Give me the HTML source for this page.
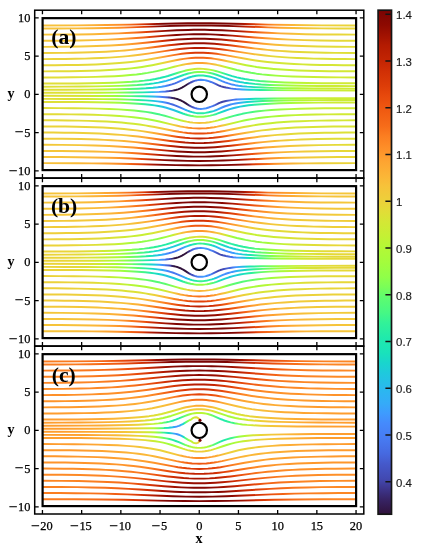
<!DOCTYPE html><html><head><meta charset="utf-8"><title>Streamlines</title><style>html,body{margin:0;padding:0;background:#fff}svg{display:block}text{fill:#000}.t{font-family:"Liberation Serif",serif;font-size:12.4px;stroke:#000;stroke-width:.25px}.b{font-family:"Liberation Serif",serif;font-weight:bold}.c{font-family:"Liberation Sans",sans-serif;font-size:11.4px;fill:#1a1a1a;stroke:#1a1a1a;stroke-width:.15px}</style></head><body>
<svg width="421" height="550" viewBox="0 0 421 550">
<rect width="421" height="550" fill="#fff"/>
<defs><linearGradient id="g0_0" gradientUnits="userSpaceOnUse" x1="42.45" x2="356.05" y1="0" y2="0"><stop offset="0" stop-color="#dfdf37"/><stop offset=".09" stop-color="#dbe236"/><stop offset=".15" stop-color="#d0ea34"/><stop offset=".19" stop-color="#bcf534"/><stop offset=".23" stop-color="#a1fd3d"/><stop offset=".24" stop-color="#96fe44"/><stop offset=".27" stop-color="#6dfe62"/><stop offset=".3" stop-color="#38f491"/><stop offset=".33" stop-color="#1ae4b6"/><stop offset=".34" stop-color="#1bd0d5"/><stop offset=".36" stop-color="#2fb2f4"/><stop offset=".37" stop-color="#4294ff"/><stop offset=".38" stop-color="#458afc"/><stop offset=".39" stop-color="#4771e9"/><stop offset=".4" stop-color="#4456c7"/><stop offset=".41" stop-color="#3f3b97"/><stop offset=".41" stop-color="#392a73"/><stop offset=".42" stop-color="#372466"/><stop offset=".42" stop-color="#30123b"/><stop offset=".46" stop-color="#30123b"/><stop offset=".47" stop-color="#4040a2"/><stop offset=".48" stop-color="#4559cb"/><stop offset=".49" stop-color="#476ee6"/><stop offset=".5" stop-color="#4685fa"/><stop offset=".51" stop-color="#448ffe"/><stop offset=".52" stop-color="#4391fe"/><stop offset=".53" stop-color="#4682f8"/><stop offset=".54" stop-color="#4776ee"/><stop offset=".55" stop-color="#4666dd"/><stop offset=".56" stop-color="#4146ac"/><stop offset=".58" stop-color="#4143a7"/><stop offset=".59" stop-color="#4456c7"/><stop offset=".61" stop-color="#4776ee"/><stop offset=".62" stop-color="#4685fa"/><stop offset=".63" stop-color="#4099ff"/><stop offset=".64" stop-color="#37a8fa"/><stop offset=".65" stop-color="#23c3e4"/><stop offset=".66" stop-color="#1ccdd8"/><stop offset=".67" stop-color="#18e0bd"/><stop offset=".67" stop-color="#19e3b9"/><stop offset=".69" stop-color="#22ebaa"/><stop offset=".71" stop-color="#38f491"/><stop offset=".75" stop-color="#79fe59"/><stop offset=".78" stop-color="#99fe42"/><stop offset=".82" stop-color="#b4f836"/><stop offset=".86" stop-color="#c1f334"/><stop offset=".92" stop-color="#cbed34"/><stop offset="1" stop-color="#cdec34"/></linearGradient><linearGradient id="g0_1" gradientUnits="userSpaceOnUse" x1="42.45" x2="356.05" y1="0" y2="0"><stop offset="0" stop-color="#dfdf37"/><stop offset=".08" stop-color="#dde037"/><stop offset=".15" stop-color="#d0ea34"/><stop offset=".2" stop-color="#bcf534"/><stop offset=".23" stop-color="#a7fc3a"/><stop offset=".25" stop-color="#96fe44"/><stop offset=".27" stop-color="#75fe5c"/><stop offset=".27" stop-color="#75fe5c"/><stop offset=".28" stop-color="#65fd69"/><stop offset=".28" stop-color="#5dfc6f"/><stop offset=".31" stop-color="#38f491"/><stop offset=".31" stop-color="#32f298"/><stop offset=".32" stop-color="#22ebaa"/><stop offset=".34" stop-color="#18e0bd"/><stop offset=".35" stop-color="#1ad2d2"/><stop offset=".36" stop-color="#20c7df"/><stop offset=".37" stop-color="#2eb4f2"/><stop offset=".38" stop-color="#3ba0fd"/><stop offset=".39" stop-color="#448ffe"/><stop offset=".4" stop-color="#4776ee"/><stop offset=".42" stop-color="#466be3"/><stop offset=".42" stop-color="#466be3"/><stop offset=".44" stop-color="#4776ee"/><stop offset=".44" stop-color="#4685fa"/><stop offset=".45" stop-color="#3d9efe"/><stop offset=".46" stop-color="#2fb2f4"/><stop offset=".47" stop-color="#1ad2d2"/><stop offset=".48" stop-color="#19e2bb"/><stop offset=".51" stop-color="#27eea4"/><stop offset=".51" stop-color="#27eea4"/><stop offset=".52" stop-color="#20eaac"/><stop offset=".54" stop-color="#18e0bd"/><stop offset=".54" stop-color="#19d5cd"/><stop offset=".55" stop-color="#20c7df"/><stop offset=".56" stop-color="#2fb2f4"/><stop offset=".57" stop-color="#3d9efe"/><stop offset=".57" stop-color="#448ffe"/><stop offset=".58" stop-color="#4685fa"/><stop offset=".6" stop-color="#4685fa"/><stop offset=".62" stop-color="#4099ff"/><stop offset=".63" stop-color="#2eb4f2"/><stop offset=".65" stop-color="#1bd0d5"/><stop offset=".67" stop-color="#18e0bd"/><stop offset=".67" stop-color="#1ae4b6"/><stop offset=".69" stop-color="#2aefa1"/><stop offset=".72" stop-color="#5dfc6f"/><stop offset=".73" stop-color="#5dfc6f"/><stop offset=".74" stop-color="#79fe59"/><stop offset=".78" stop-color="#99fe42"/><stop offset=".82" stop-color="#b4f836"/><stop offset=".86" stop-color="#c1f334"/><stop offset=".92" stop-color="#cbed34"/><stop offset="1" stop-color="#cdec34"/></linearGradient><linearGradient id="g0_2" gradientUnits="userSpaceOnUse" x1="42.45" x2="356.05" y1="0" y2="0"><stop offset="0" stop-color="#dfdf37"/><stop offset=".08" stop-color="#dde037"/><stop offset=".15" stop-color="#d0ea34"/><stop offset=".19" stop-color="#c1f334"/><stop offset=".23" stop-color="#a7fc3a"/><stop offset=".25" stop-color="#96fe44"/><stop offset=".27" stop-color="#80ff53"/><stop offset=".32" stop-color="#38f491"/><stop offset=".33" stop-color="#22ebaa"/><stop offset=".35" stop-color="#18e0bd"/><stop offset=".37" stop-color="#1ad2d2"/><stop offset=".37" stop-color="#1ccdd8"/><stop offset=".39" stop-color="#27bee9"/><stop offset=".4" stop-color="#2ab9ee"/><stop offset=".41" stop-color="#28bceb"/><stop offset=".43" stop-color="#1bd0d5"/><stop offset=".44" stop-color="#19e3b9"/><stop offset=".46" stop-color="#2cf09e"/><stop offset=".48" stop-color="#71fe5f"/><stop offset=".49" stop-color="#84ff51"/><stop offset=".5" stop-color="#8bff4b"/><stop offset=".51" stop-color="#8bff4b"/><stop offset=".52" stop-color="#84ff51"/><stop offset=".53" stop-color="#71fe5f"/><stop offset=".54" stop-color="#4af880"/><stop offset=".55" stop-color="#2ff19b"/><stop offset=".57" stop-color="#19e3b9"/><stop offset=".57" stop-color="#18d9c8"/><stop offset=".59" stop-color="#22c5e2"/><stop offset=".61" stop-color="#27bee9"/><stop offset=".62" stop-color="#22c5e2"/><stop offset=".64" stop-color="#18d7ca"/><stop offset=".66" stop-color="#18e0bd"/><stop offset=".67" stop-color="#20eaac"/><stop offset=".71" stop-color="#46f884"/><stop offset=".74" stop-color="#7dff56"/><stop offset=".77" stop-color="#99fe42"/><stop offset=".81" stop-color="#affa37"/><stop offset=".86" stop-color="#c1f334"/><stop offset=".91" stop-color="#cbed34"/><stop offset="1" stop-color="#d0ea34"/></linearGradient><linearGradient id="g0_3" gradientUnits="userSpaceOnUse" x1="42.45" x2="356.05" y1="0" y2="0"><stop offset="0" stop-color="#e1dd37"/><stop offset=".07" stop-color="#dfdf37"/><stop offset=".13" stop-color="#d7e535"/><stop offset=".19" stop-color="#c6f034"/><stop offset=".24" stop-color="#a9fb39"/><stop offset=".25" stop-color="#9cfe40"/><stop offset=".28" stop-color="#80ff53"/><stop offset=".29" stop-color="#65fd69"/><stop offset=".3" stop-color="#65fd69"/><stop offset=".33" stop-color="#35f394"/><stop offset=".36" stop-color="#20eaac"/><stop offset=".38" stop-color="#1ce6b4"/><stop offset=".4" stop-color="#1de7b2"/><stop offset=".41" stop-color="#22ebaa"/><stop offset=".42" stop-color="#2ff19b"/><stop offset=".43" stop-color="#4af880"/><stop offset=".44" stop-color="#69fd66"/><stop offset=".45" stop-color="#75fe5c"/><stop offset=".46" stop-color="#9cfe40"/><stop offset=".47" stop-color="#b1f936"/><stop offset=".48" stop-color="#c8ef34"/><stop offset=".5" stop-color="#d7e535"/><stop offset=".51" stop-color="#d4e735"/><stop offset=".53" stop-color="#c6f034"/><stop offset=".54" stop-color="#a9fb39"/><stop offset=".54" stop-color="#9ffd3f"/><stop offset=".55" stop-color="#88ff4e"/><stop offset=".57" stop-color="#59fb73"/><stop offset=".58" stop-color="#32f298"/><stop offset=".59" stop-color="#20eaac"/><stop offset=".6" stop-color="#1ce6b4"/><stop offset=".62" stop-color="#19e3b9"/><stop offset=".64" stop-color="#1ce6b4"/><stop offset=".67" stop-color="#2cf09e"/><stop offset=".71" stop-color="#55fa76"/><stop offset=".73" stop-color="#79fe59"/><stop offset=".75" stop-color="#8bff4b"/><stop offset=".78" stop-color="#a1fd3d"/><stop offset=".81" stop-color="#b7f735"/><stop offset=".87" stop-color="#c6f034"/><stop offset=".96" stop-color="#d0ea34"/><stop offset="1" stop-color="#d0ea34"/></linearGradient><linearGradient id="g0_4" gradientUnits="userSpaceOnUse" x1="42.45" x2="356.05" y1="0" y2="0"><stop offset="0" stop-color="#e3db38"/><stop offset=".1" stop-color="#dfdf37"/><stop offset=".18" stop-color="#d0ea34"/><stop offset=".21" stop-color="#c6f034"/><stop offset=".26" stop-color="#affa37"/><stop offset=".29" stop-color="#96fe44"/><stop offset=".32" stop-color="#80ff53"/><stop offset=".34" stop-color="#79fe59"/><stop offset=".36" stop-color="#79fe59"/><stop offset=".38" stop-color="#84ff51"/><stop offset=".41" stop-color="#b4f836"/><stop offset=".43" stop-color="#d7e535"/><stop offset=".45" stop-color="#f2c93a"/><stop offset=".46" stop-color="#fbb838"/><stop offset=".49" stop-color="#fea431"/><stop offset=".51" stop-color="#fea130"/><stop offset=".52" stop-color="#fea933"/><stop offset=".54" stop-color="#fbb838"/><stop offset=".56" stop-color="#ecd13a"/><stop offset=".58" stop-color="#d0ea34"/><stop offset=".59" stop-color="#acfb38"/><stop offset=".62" stop-color="#80ff53"/><stop offset=".64" stop-color="#6dfe62"/><stop offset=".67" stop-color="#6dfe62"/><stop offset=".7" stop-color="#80ff53"/><stop offset=".73" stop-color="#96fe44"/><stop offset=".76" stop-color="#a7fc3a"/><stop offset=".82" stop-color="#c1f334"/><stop offset=".92" stop-color="#d0ea34"/><stop offset="1" stop-color="#d2e935"/></linearGradient><linearGradient id="g0_5" gradientUnits="userSpaceOnUse" x1="42.45" x2="356.05" y1="0" y2="0"><stop offset="0" stop-color="#e5d938"/><stop offset=".14" stop-color="#dfdf37"/><stop offset=".23" stop-color="#d0ea34"/><stop offset=".29" stop-color="#bef434"/><stop offset=".34" stop-color="#c1f334"/><stop offset=".35" stop-color="#c8ef34"/><stop offset=".38" stop-color="#dfdf37"/><stop offset=".4" stop-color="#f2c93a"/><stop offset=".42" stop-color="#fbb838"/><stop offset=".44" stop-color="#fe932a"/><stop offset=".47" stop-color="#f8721c"/><stop offset=".49" stop-color="#f36315"/><stop offset=".51" stop-color="#f36315"/><stop offset=".53" stop-color="#f76f1a"/><stop offset=".55" stop-color="#fe9029"/><stop offset=".58" stop-color="#fdae35"/><stop offset=".59" stop-color="#f5c53a"/><stop offset=".61" stop-color="#e1dd37"/><stop offset=".65" stop-color="#bef434"/><stop offset=".67" stop-color="#b4f836"/><stop offset=".7" stop-color="#b1f936"/><stop offset=".79" stop-color="#c6f034"/><stop offset=".86" stop-color="#d0ea34"/><stop offset="1" stop-color="#d4e735"/></linearGradient><linearGradient id="g0_6" gradientUnits="userSpaceOnUse" x1="42.45" x2="356.05" y1="0" y2="0"><stop offset="0" stop-color="#e9d539"/><stop offset=".11" stop-color="#e7d739"/><stop offset=".21" stop-color="#dfdf37"/><stop offset=".29" stop-color="#dfdf37"/><stop offset=".32" stop-color="#e5d938"/><stop offset=".36" stop-color="#f7c13a"/><stop offset=".38" stop-color="#fdac34"/><stop offset=".4" stop-color="#fe9029"/><stop offset=".44" stop-color="#f05b12"/><stop offset=".46" stop-color="#e84b0c"/><stop offset=".48" stop-color="#da3907"/><stop offset=".51" stop-color="#d83706"/><stop offset=".53" stop-color="#df3f08"/><stop offset=".55" stop-color="#ed5510"/><stop offset=".59" stop-color="#fe9029"/><stop offset=".62" stop-color="#fbb637"/><stop offset=".66" stop-color="#ebd339"/><stop offset=".68" stop-color="#dfdf37"/><stop offset=".74" stop-color="#d2e935"/><stop offset="1" stop-color="#d7e535"/></linearGradient><linearGradient id="g0_7" gradientUnits="userSpaceOnUse" x1="42.45" x2="356.05" y1="0" y2="0"><stop offset="0" stop-color="#ebd339"/><stop offset=".2" stop-color="#ebd339"/><stop offset=".26" stop-color="#efcd3a"/><stop offset=".3" stop-color="#f6c33a"/><stop offset=".34" stop-color="#fea732"/><stop offset=".39" stop-color="#f9751d"/><stop offset=".41" stop-color="#eb500e"/><stop offset=".45" stop-color="#cc2b04"/><stop offset=".48" stop-color="#b71d02"/><stop offset=".51" stop-color="#b71d02"/><stop offset=".53" stop-color="#be2102"/><stop offset=".55" stop-color="#d02f05"/><stop offset=".58" stop-color="#e7490c"/><stop offset=".61" stop-color="#f9751d"/><stop offset=".63" stop-color="#fe992c"/><stop offset=".65" stop-color="#fdac34"/><stop offset=".69" stop-color="#f2c93a"/><stop offset=".73" stop-color="#e7d739"/><stop offset=".79" stop-color="#dfdf37"/><stop offset="1" stop-color="#dbe236"/></linearGradient><linearGradient id="g0_8" gradientUnits="userSpaceOnUse" x1="42.45" x2="356.05" y1="0" y2="0"><stop offset="0" stop-color="#eecf3a"/><stop offset=".18" stop-color="#f1cb3a"/><stop offset=".23" stop-color="#f5c53a"/><stop offset=".27" stop-color="#fbb838"/><stop offset=".33" stop-color="#fe962b"/><stop offset=".37" stop-color="#f15d13"/><stop offset=".4" stop-color="#df3f08"/><stop offset=".42" stop-color="#cc2b04"/><stop offset=".43" stop-color="#b91e02"/><stop offset=".47" stop-color="#9b0f01"/><stop offset=".51" stop-color="#950d01"/><stop offset=".54" stop-color="#a11201"/><stop offset=".57" stop-color="#be2102"/><stop offset=".58" stop-color="#ce2d04"/><stop offset=".61" stop-color="#e7490c"/><stop offset=".64" stop-color="#f8721c"/><stop offset=".68" stop-color="#fea732"/><stop offset=".72" stop-color="#f7c13a"/><stop offset=".77" stop-color="#ecd13a"/><stop offset=".84" stop-color="#e3db38"/><stop offset="1" stop-color="#dde037"/></linearGradient><linearGradient id="g0_9" gradientUnits="userSpaceOnUse" x1="42.45" x2="356.05" y1="0" y2="0"><stop offset="0" stop-color="#f1cb3a"/><stop offset=".12" stop-color="#f2c93a"/><stop offset=".22" stop-color="#faba39"/><stop offset=".28" stop-color="#fea130"/><stop offset=".32" stop-color="#fb7e21"/><stop offset=".36" stop-color="#ea4e0d"/><stop offset=".39" stop-color="#cc2b04"/><stop offset=".41" stop-color="#b41b01"/><stop offset=".45" stop-color="#8b0902"/><stop offset=".48" stop-color="#850702"/><stop offset=".48" stop-color="#810602"/><stop offset=".5" stop-color="#810602"/><stop offset=".5" stop-color="#850702"/><stop offset=".53" stop-color="#850702"/><stop offset=".55" stop-color="#8e0a01"/><stop offset=".59" stop-color="#be2102"/><stop offset=".62" stop-color="#dc3b07"/><stop offset=".64" stop-color="#eb500e"/><stop offset=".67" stop-color="#f9751d"/><stop offset=".69" stop-color="#fe9029"/><stop offset=".71" stop-color="#fea732"/><stop offset=".73" stop-color="#fbb637"/><stop offset=".78" stop-color="#f2c93a"/><stop offset=".88" stop-color="#e5d938"/><stop offset="1" stop-color="#e1dd37"/></linearGradient><linearGradient id="g0_10" gradientUnits="userSpaceOnUse" x1="42.45" x2="356.05" y1="0" y2="0"><stop offset="0" stop-color="#f4c73a"/><stop offset=".11" stop-color="#f5c53a"/><stop offset=".2" stop-color="#fbb637"/><stop offset=".24" stop-color="#fea732"/><stop offset=".27" stop-color="#fe962b"/><stop offset=".29" stop-color="#fb7e21"/><stop offset=".33" stop-color="#f05b12"/><stop offset=".34" stop-color="#e4450a"/><stop offset=".38" stop-color="#be2102"/><stop offset=".4" stop-color="#9e1001"/><stop offset=".42" stop-color="#880802"/><stop offset=".45" stop-color="#7a0403"/><stop offset=".53" stop-color="#7a0403"/><stop offset=".53" stop-color="#7e0502"/><stop offset=".55" stop-color="#810602"/><stop offset=".57" stop-color="#8b0902"/><stop offset=".59" stop-color="#9b0f01"/><stop offset=".61" stop-color="#b41b01"/><stop offset=".64" stop-color="#d23105"/><stop offset=".65" stop-color="#e4450a"/><stop offset=".67" stop-color="#f26014"/><stop offset=".69" stop-color="#fb7e21"/><stop offset=".71" stop-color="#fe932a"/><stop offset=".73" stop-color="#fea431"/><stop offset=".76" stop-color="#fbb637"/><stop offset=".79" stop-color="#f7c13a"/><stop offset=".88" stop-color="#e9d539"/><stop offset="1" stop-color="#e3db38"/></linearGradient><linearGradient id="g0_11" gradientUnits="userSpaceOnUse" x1="42.45" x2="356.05" y1="0" y2="0"><stop offset="0" stop-color="#f5c53a"/><stop offset=".08" stop-color="#f6c33a"/><stop offset=".17" stop-color="#fbb637"/><stop offset=".22" stop-color="#fea732"/><stop offset=".24" stop-color="#fe992c"/><stop offset=".29" stop-color="#f9751d"/><stop offset=".31" stop-color="#ef5811"/><stop offset=".33" stop-color="#e2430a"/><stop offset=".35" stop-color="#cc2b04"/><stop offset=".36" stop-color="#b91e02"/><stop offset=".4" stop-color="#880802"/><stop offset=".42" stop-color="#7a0403"/><stop offset=".56" stop-color="#7a0403"/><stop offset=".59" stop-color="#8b0902"/><stop offset=".61" stop-color="#9e1001"/><stop offset=".64" stop-color="#bc2002"/><stop offset=".67" stop-color="#e7490c"/><stop offset=".71" stop-color="#fb7e21"/><stop offset=".75" stop-color="#fea732"/><stop offset=".81" stop-color="#f6c33a"/><stop offset=".9" stop-color="#ebd339"/><stop offset="1" stop-color="#e5d938"/></linearGradient><linearGradient id="g0_12" gradientUnits="userSpaceOnUse" x1="42.45" x2="356.05" y1="0" y2="0"><stop offset="0" stop-color="#f6c33a"/><stop offset=".07" stop-color="#f7c13a"/><stop offset=".17" stop-color="#fcb136"/><stop offset=".23" stop-color="#fe992c"/><stop offset=".26" stop-color="#fc8423"/><stop offset=".27" stop-color="#f9751d"/><stop offset=".3" stop-color="#ef5811"/><stop offset=".33" stop-color="#d83706"/><stop offset=".35" stop-color="#af1801"/><stop offset=".38" stop-color="#850702"/><stop offset=".4" stop-color="#7a0403"/><stop offset=".58" stop-color="#7a0403"/><stop offset=".61" stop-color="#8b0902"/><stop offset=".64" stop-color="#af1801"/><stop offset=".66" stop-color="#cc2b04"/><stop offset=".69" stop-color="#ea4e0d"/><stop offset=".72" stop-color="#fb7e21"/><stop offset=".74" stop-color="#fe9029"/><stop offset=".76" stop-color="#fea732"/><stop offset=".79" stop-color="#fbb637"/><stop offset=".83" stop-color="#f6c33a"/><stop offset=".9" stop-color="#ecd13a"/><stop offset="1" stop-color="#e7d739"/></linearGradient><linearGradient id="g0_13" gradientUnits="userSpaceOnUse" x1="42.45" x2="356.05" y1="0" y2="0"><stop offset="0" stop-color="#f7c13a"/><stop offset=".05" stop-color="#f7c13a"/><stop offset=".16" stop-color="#fcb136"/><stop offset=".22" stop-color="#fe992c"/><stop offset=".25" stop-color="#fd8a26"/><stop offset=".27" stop-color="#f9751d"/><stop offset=".3" stop-color="#ec530f"/><stop offset=".32" stop-color="#d83706"/><stop offset=".35" stop-color="#af1801"/><stop offset=".38" stop-color="#850702"/><stop offset=".39" stop-color="#7a0403"/><stop offset=".59" stop-color="#7a0403"/><stop offset=".62" stop-color="#8b0902"/><stop offset=".65" stop-color="#b91e02"/><stop offset=".68" stop-color="#e14109"/><stop offset=".7" stop-color="#f15d13"/><stop offset=".72" stop-color="#f9751d"/><stop offset=".74" stop-color="#fe932a"/><stop offset=".77" stop-color="#fea732"/><stop offset=".81" stop-color="#f9bc39"/><stop offset=".89" stop-color="#eecf3a"/><stop offset="1" stop-color="#e9d539"/></linearGradient><linearGradient id="g0_14" gradientUnits="userSpaceOnUse" x1="42.45" x2="356.05" y1="0" y2="0"><stop offset="0" stop-color="#dfdf37"/><stop offset=".09" stop-color="#dbe236"/><stop offset=".15" stop-color="#d0ea34"/><stop offset=".19" stop-color="#bcf534"/><stop offset=".23" stop-color="#a1fd3d"/><stop offset=".24" stop-color="#96fe44"/><stop offset=".27" stop-color="#6dfe62"/><stop offset=".3" stop-color="#38f491"/><stop offset=".33" stop-color="#1ae4b6"/><stop offset=".34" stop-color="#1bd0d5"/><stop offset=".36" stop-color="#2fb2f4"/><stop offset=".37" stop-color="#4294ff"/><stop offset=".38" stop-color="#4682f8"/><stop offset=".39" stop-color="#4771e9"/><stop offset=".4" stop-color="#4456c7"/><stop offset=".4" stop-color="#4249b1"/><stop offset=".41" stop-color="#3e3891"/><stop offset=".41" stop-color="#3c3286"/><stop offset=".41" stop-color="#392a73"/><stop offset=".42" stop-color="#372466"/><stop offset=".42" stop-color="#30123b"/><stop offset=".46" stop-color="#30123b"/><stop offset=".46" stop-color="#33184a"/><stop offset=".47" stop-color="#3d358b"/><stop offset=".47" stop-color="#4146ac"/><stop offset=".48" stop-color="#4456c7"/><stop offset=".49" stop-color="#476ee6"/><stop offset=".5" stop-color="#4685fa"/><stop offset=".51" stop-color="#4391fe"/><stop offset=".52" stop-color="#4391fe"/><stop offset=".53" stop-color="#4685fa"/><stop offset=".54" stop-color="#467df4"/><stop offset=".55" stop-color="#4664da"/><stop offset=".56" stop-color="#4249b1"/><stop offset=".57" stop-color="#4040a2"/><stop offset=".58" stop-color="#4146ac"/><stop offset=".59" stop-color="#4456c7"/><stop offset=".61" stop-color="#4776ee"/><stop offset=".62" stop-color="#467df4"/><stop offset=".62" stop-color="#458afc"/><stop offset=".63" stop-color="#4099ff"/><stop offset=".64" stop-color="#33adf7"/><stop offset=".65" stop-color="#27bee9"/><stop offset=".66" stop-color="#1ccdd8"/><stop offset=".67" stop-color="#18e0bd"/><stop offset=".67" stop-color="#19e3b9"/><stop offset=".69" stop-color="#22ebaa"/><stop offset=".71" stop-color="#38f491"/><stop offset=".75" stop-color="#79fe59"/><stop offset=".78" stop-color="#99fe42"/><stop offset=".82" stop-color="#b4f836"/><stop offset=".86" stop-color="#c1f334"/><stop offset=".92" stop-color="#cbed34"/><stop offset="1" stop-color="#cdec34"/></linearGradient><linearGradient id="g0_15" gradientUnits="userSpaceOnUse" x1="42.45" x2="356.05" y1="0" y2="0"><stop offset="0" stop-color="#dfdf37"/><stop offset=".08" stop-color="#dde037"/><stop offset=".15" stop-color="#d0ea34"/><stop offset=".2" stop-color="#bcf534"/><stop offset=".23" stop-color="#a7fc3a"/><stop offset=".25" stop-color="#96fe44"/><stop offset=".27" stop-color="#75fe5c"/><stop offset=".27" stop-color="#75fe5c"/><stop offset=".28" stop-color="#69fd66"/><stop offset=".28" stop-color="#61fc6c"/><stop offset=".31" stop-color="#38f491"/><stop offset=".31" stop-color="#32f298"/><stop offset=".32" stop-color="#22ebaa"/><stop offset=".34" stop-color="#18e0bd"/><stop offset=".35" stop-color="#1ccdd8"/><stop offset=".37" stop-color="#2eb4f2"/><stop offset=".38" stop-color="#3ba0fd"/><stop offset=".39" stop-color="#458afc"/><stop offset=".4" stop-color="#4778f0"/><stop offset=".41" stop-color="#466be3"/><stop offset=".42" stop-color="#4669e0"/><stop offset=".43" stop-color="#466be3"/><stop offset=".44" stop-color="#4778f0"/><stop offset=".45" stop-color="#448ffe"/><stop offset=".45" stop-color="#3e9bfe"/><stop offset=".46" stop-color="#2fb2f4"/><stop offset=".47" stop-color="#20c7df"/><stop offset=".47" stop-color="#19d5cd"/><stop offset=".49" stop-color="#1de7b2"/><stop offset=".5" stop-color="#2aefa1"/><stop offset=".52" stop-color="#27eea4"/><stop offset=".53" stop-color="#1ae4b6"/><stop offset=".54" stop-color="#18d9c8"/><stop offset=".55" stop-color="#25c0e7"/><stop offset=".56" stop-color="#3aa3fc"/><stop offset=".57" stop-color="#4294ff"/><stop offset=".58" stop-color="#4685fa"/><stop offset=".59" stop-color="#4682f8"/><stop offset=".62" stop-color="#4099ff"/><stop offset=".63" stop-color="#31aff5"/><stop offset=".65" stop-color="#1bd0d5"/><stop offset=".67" stop-color="#18e0bd"/><stop offset=".67" stop-color="#1ae4b6"/><stop offset=".69" stop-color="#2cf09e"/><stop offset=".72" stop-color="#5dfc6f"/><stop offset=".73" stop-color="#5dfc6f"/><stop offset=".74" stop-color="#79fe59"/><stop offset=".78" stop-color="#99fe42"/><stop offset=".82" stop-color="#b4f836"/><stop offset=".86" stop-color="#c1f334"/><stop offset=".92" stop-color="#cbed34"/><stop offset="1" stop-color="#cdec34"/></linearGradient><linearGradient id="g0_16" gradientUnits="userSpaceOnUse" x1="42.45" x2="356.05" y1="0" y2="0"><stop offset="0" stop-color="#dfdf37"/><stop offset=".08" stop-color="#dde037"/><stop offset=".15" stop-color="#d0ea34"/><stop offset=".19" stop-color="#c1f334"/><stop offset=".23" stop-color="#a7fc3a"/><stop offset=".25" stop-color="#96fe44"/><stop offset=".27" stop-color="#80ff53"/><stop offset=".31" stop-color="#46f884"/><stop offset=".33" stop-color="#25eca7"/><stop offset=".35" stop-color="#18e0bd"/><stop offset=".36" stop-color="#18d7ca"/><stop offset=".39" stop-color="#25c0e7"/><stop offset=".4" stop-color="#2ab9ee"/><stop offset=".41" stop-color="#2ab9ee"/><stop offset=".42" stop-color="#22c5e2"/><stop offset=".44" stop-color="#18d7ca"/><stop offset=".44" stop-color="#19e2bb"/><stop offset=".45" stop-color="#22ebaa"/><stop offset=".46" stop-color="#38f491"/><stop offset=".48" stop-color="#6dfe62"/><stop offset=".48" stop-color="#79fe59"/><stop offset=".49" stop-color="#80ff53"/><stop offset=".49" stop-color="#88ff4e"/><stop offset=".5" stop-color="#8fff49"/><stop offset=".51" stop-color="#8fff49"/><stop offset=".53" stop-color="#79fe59"/><stop offset=".54" stop-color="#55fa76"/><stop offset=".54" stop-color="#52fa7a"/><stop offset=".56" stop-color="#22ebaa"/><stop offset=".57" stop-color="#19e3b9"/><stop offset=".58" stop-color="#1ad4d0"/><stop offset=".59" stop-color="#22c5e2"/><stop offset=".6" stop-color="#27bee9"/><stop offset=".61" stop-color="#27bee9"/><stop offset=".63" stop-color="#1fc9dd"/><stop offset=".64" stop-color="#18d7ca"/><stop offset=".66" stop-color="#18e0bd"/><stop offset=".67" stop-color="#20eaac"/><stop offset=".7" stop-color="#3ff68a"/><stop offset=".74" stop-color="#7dff56"/><stop offset=".77" stop-color="#99fe42"/><stop offset=".81" stop-color="#affa37"/><stop offset=".86" stop-color="#c1f334"/><stop offset=".91" stop-color="#cbed34"/><stop offset="1" stop-color="#d0ea34"/></linearGradient><linearGradient id="g0_17" gradientUnits="userSpaceOnUse" x1="42.45" x2="356.05" y1="0" y2="0"><stop offset="0" stop-color="#e1dd37"/><stop offset=".12" stop-color="#dbe236"/><stop offset=".2" stop-color="#c6f034"/><stop offset=".23" stop-color="#b1f936"/><stop offset=".27" stop-color="#9cfe40"/><stop offset=".3" stop-color="#79fe59"/><stop offset=".33" stop-color="#55fa76"/><stop offset=".36" stop-color="#43f787"/><stop offset=".38" stop-color="#43f787"/><stop offset=".39" stop-color="#4ef97d"/><stop offset=".41" stop-color="#61fc6c"/><stop offset=".42" stop-color="#96fe44"/><stop offset=".44" stop-color="#b4f836"/><stop offset=".45" stop-color="#d0ea34"/><stop offset=".47" stop-color="#ebd339"/><stop offset=".49" stop-color="#f6c33a"/><stop offset=".51" stop-color="#f7c13a"/><stop offset=".53" stop-color="#eecf3a"/><stop offset=".54" stop-color="#e3db38"/><stop offset=".55" stop-color="#cdec34"/><stop offset=".57" stop-color="#affa37"/><stop offset=".57" stop-color="#9cfe40"/><stop offset=".58" stop-color="#8bff4b"/><stop offset=".59" stop-color="#5dfc6f"/><stop offset=".61" stop-color="#43f787"/><stop offset=".62" stop-color="#3cf58e"/><stop offset=".65" stop-color="#3cf58e"/><stop offset=".67" stop-color="#46f884"/><stop offset=".67" stop-color="#4ef97d"/><stop offset=".71" stop-color="#6dfe62"/><stop offset=".71" stop-color="#79fe59"/><stop offset=".75" stop-color="#99fe42"/><stop offset=".81" stop-color="#b7f735"/><stop offset=".89" stop-color="#cbed34"/><stop offset="1" stop-color="#d0ea34"/></linearGradient><linearGradient id="g0_18" gradientUnits="userSpaceOnUse" x1="42.45" x2="356.05" y1="0" y2="0"><stop offset="0" stop-color="#e3db38"/><stop offset=".07" stop-color="#e3db38"/><stop offset=".17" stop-color="#d7e535"/><stop offset=".25" stop-color="#bcf534"/><stop offset=".32" stop-color="#a1fd3d"/><stop offset=".34" stop-color="#a1fd3d"/><stop offset=".37" stop-color="#acfb38"/><stop offset=".39" stop-color="#c3f134"/><stop offset=".4" stop-color="#d2e935"/><stop offset=".41" stop-color="#e7d739"/><stop offset=".44" stop-color="#faba39"/><stop offset=".46" stop-color="#fe9b2d"/><stop offset=".48" stop-color="#fc8423"/><stop offset=".51" stop-color="#fb7e21"/><stop offset=".52" stop-color="#fc8725"/><stop offset=".55" stop-color="#fea933"/><stop offset=".57" stop-color="#f9bc39"/><stop offset=".58" stop-color="#ecd13a"/><stop offset=".6" stop-color="#d0ea34"/><stop offset=".63" stop-color="#acfb38"/><stop offset=".64" stop-color="#a1fd3d"/><stop offset=".65" stop-color="#99fe42"/><stop offset=".68" stop-color="#96fe44"/><stop offset=".72" stop-color="#a1fd3d"/><stop offset=".76" stop-color="#b1f936"/><stop offset=".83" stop-color="#c6f034"/><stop offset=".89" stop-color="#d0ea34"/><stop offset="1" stop-color="#d2e935"/></linearGradient><linearGradient id="g0_19" gradientUnits="userSpaceOnUse" x1="42.45" x2="356.05" y1="0" y2="0"><stop offset="0" stop-color="#e7d739"/><stop offset=".13" stop-color="#e3db38"/><stop offset=".26" stop-color="#d2e935"/><stop offset=".31" stop-color="#d2e935"/><stop offset=".33" stop-color="#d9e436"/><stop offset=".35" stop-color="#e3db38"/><stop offset=".39" stop-color="#f7c13a"/><stop offset=".41" stop-color="#fea933"/><stop offset=".44" stop-color="#fb7e21"/><stop offset=".47" stop-color="#ed5510"/><stop offset=".48" stop-color="#e84b0c"/><stop offset=".5" stop-color="#e5470b"/><stop offset=".52" stop-color="#e84b0c"/><stop offset=".54" stop-color="#f15d13"/><stop offset=".56" stop-color="#f8721c"/><stop offset=".59" stop-color="#fea933"/><stop offset=".62" stop-color="#f5c53a"/><stop offset=".63" stop-color="#e7d739"/><stop offset=".67" stop-color="#d2e935"/><stop offset=".7" stop-color="#c6f034"/><stop offset=".75" stop-color="#c6f034"/><stop offset=".85" stop-color="#d2e935"/><stop offset="1" stop-color="#d4e735"/></linearGradient><linearGradient id="g0_20" gradientUnits="userSpaceOnUse" x1="42.45" x2="356.05" y1="0" y2="0"><stop offset="0" stop-color="#ebd339"/><stop offset=".26" stop-color="#e7d739"/><stop offset=".31" stop-color="#f1cb3a"/><stop offset=".35" stop-color="#fcb336"/><stop offset=".38" stop-color="#fe932a"/><stop offset=".41" stop-color="#f66c19"/><stop offset=".42" stop-color="#ef5811"/><stop offset=".44" stop-color="#e14109"/><stop offset=".47" stop-color="#cc2b04"/><stop offset=".49" stop-color="#c52603"/><stop offset=".51" stop-color="#c52603"/><stop offset=".53" stop-color="#ce2d04"/><stop offset=".56" stop-color="#e5470b"/><stop offset=".58" stop-color="#f26014"/><stop offset=".61" stop-color="#fe9029"/><stop offset=".63" stop-color="#fea732"/><stop offset=".66" stop-color="#f5c53a"/><stop offset=".71" stop-color="#e3db38"/><stop offset=".78" stop-color="#d9e436"/><stop offset="1" stop-color="#d9e436"/></linearGradient><linearGradient id="g0_21" gradientUnits="userSpaceOnUse" x1="42.45" x2="356.05" y1="0" y2="0"><stop offset="0" stop-color="#ecd13a"/><stop offset=".18" stop-color="#eecf3a"/><stop offset=".27" stop-color="#f6c33a"/><stop offset=".3" stop-color="#fbb637"/><stop offset=".33" stop-color="#fea431"/><stop offset=".37" stop-color="#f9751d"/><stop offset=".4" stop-color="#e7490c"/><stop offset=".43" stop-color="#cc2b04"/><stop offset=".47" stop-color="#a91601"/><stop offset=".48" stop-color="#a41301"/><stop offset=".52" stop-color="#a41301"/><stop offset=".54" stop-color="#af1801"/><stop offset=".56" stop-color="#c82803"/><stop offset=".6" stop-color="#ea4e0d"/><stop offset=".62" stop-color="#f56918"/><stop offset=".65" stop-color="#fe9029"/><stop offset=".67" stop-color="#fea732"/><stop offset=".7" stop-color="#f7c13a"/><stop offset=".75" stop-color="#ebd339"/><stop offset=".8" stop-color="#e3db38"/><stop offset="1" stop-color="#dbe236"/></linearGradient><linearGradient id="g0_22" gradientUnits="userSpaceOnUse" x1="42.45" x2="356.05" y1="0" y2="0"><stop offset="0" stop-color="#efcd3a"/><stop offset=".13" stop-color="#f1cb3a"/><stop offset=".21" stop-color="#f7c13a"/><stop offset=".26" stop-color="#fbb637"/><stop offset=".29" stop-color="#fea732"/><stop offset=".32" stop-color="#fd8d27"/><stop offset=".33" stop-color="#fb7e21"/><stop offset=".37" stop-color="#eb500e"/><stop offset=".4" stop-color="#ce2d04"/><stop offset=".42" stop-color="#b41b01"/><stop offset=".46" stop-color="#8e0a01"/><stop offset=".48" stop-color="#880802"/><stop offset=".51" stop-color="#880802"/><stop offset=".54" stop-color="#950d01"/><stop offset=".57" stop-color="#ac1701"/><stop offset=".57" stop-color="#b21a01"/><stop offset=".59" stop-color="#c52603"/><stop offset=".61" stop-color="#d83706"/><stop offset=".62" stop-color="#ea4e0d"/><stop offset=".65" stop-color="#f8721c"/><stop offset=".67" stop-color="#fe9029"/><stop offset=".69" stop-color="#fea130"/><stop offset=".72" stop-color="#fbb637"/><stop offset=".79" stop-color="#eecf3a"/><stop offset=".9" stop-color="#e1dd37"/><stop offset="1" stop-color="#dfdf37"/></linearGradient><linearGradient id="g0_23" gradientUnits="userSpaceOnUse" x1="42.45" x2="356.05" y1="0" y2="0"><stop offset="0" stop-color="#f2c93a"/><stop offset=".11" stop-color="#f4c73a"/><stop offset=".21" stop-color="#fbb838"/><stop offset=".25" stop-color="#fea732"/><stop offset=".28" stop-color="#fe992c"/><stop offset=".31" stop-color="#fb7e21"/><stop offset=".33" stop-color="#f15d13"/><stop offset=".35" stop-color="#e4450a"/><stop offset=".38" stop-color="#c82803"/><stop offset=".4" stop-color="#af1801"/><stop offset=".43" stop-color="#8b0902"/><stop offset=".44" stop-color="#850702"/><stop offset=".46" stop-color="#7e0502"/><stop offset=".5" stop-color="#7a0403"/><stop offset=".5" stop-color="#7e0502"/><stop offset=".53" stop-color="#7e0502"/><stop offset=".56" stop-color="#880802"/><stop offset=".57" stop-color="#920b01"/><stop offset=".61" stop-color="#b91e02"/><stop offset=".62" stop-color="#cc2b04"/><stop offset=".64" stop-color="#e14109"/><stop offset=".65" stop-color="#e84b0c"/><stop offset=".66" stop-color="#ef5811"/><stop offset=".68" stop-color="#fb7e21"/><stop offset=".72" stop-color="#fea732"/><stop offset=".75" stop-color="#fbb637"/><stop offset=".79" stop-color="#f5c53a"/><stop offset=".88" stop-color="#e7d739"/><stop offset="1" stop-color="#e1dd37"/></linearGradient><linearGradient id="g0_24" gradientUnits="userSpaceOnUse" x1="42.45" x2="356.05" y1="0" y2="0"><stop offset="0" stop-color="#f4c73a"/><stop offset=".1" stop-color="#f6c33a"/><stop offset=".19" stop-color="#fbb637"/><stop offset=".23" stop-color="#fea732"/><stop offset=".25" stop-color="#fe992c"/><stop offset=".29" stop-color="#f9751d"/><stop offset=".32" stop-color="#ef5811"/><stop offset=".34" stop-color="#dd3d08"/><stop offset=".37" stop-color="#b91e02"/><stop offset=".4" stop-color="#920b01"/><stop offset=".43" stop-color="#7a0403"/><stop offset=".55" stop-color="#7a0403"/><stop offset=".59" stop-color="#8e0a01"/><stop offset=".62" stop-color="#af1801"/><stop offset=".64" stop-color="#cc2b04"/><stop offset=".66" stop-color="#e4450a"/><stop offset=".68" stop-color="#f15d13"/><stop offset=".7" stop-color="#fb7e21"/><stop offset=".72" stop-color="#fe962b"/><stop offset=".74" stop-color="#fea732"/><stop offset=".81" stop-color="#f5c53a"/><stop offset=".9" stop-color="#e9d539"/><stop offset="1" stop-color="#e5d938"/></linearGradient><linearGradient id="g0_25" gradientUnits="userSpaceOnUse" x1="42.45" x2="356.05" y1="0" y2="0"><stop offset="0" stop-color="#f6c33a"/><stop offset=".09" stop-color="#f7c13a"/><stop offset=".16" stop-color="#fbb637"/><stop offset=".21" stop-color="#fea732"/><stop offset=".24" stop-color="#fe992c"/><stop offset=".28" stop-color="#f9751d"/><stop offset=".3" stop-color="#ef5811"/><stop offset=".32" stop-color="#e2430a"/><stop offset=".34" stop-color="#c82803"/><stop offset=".36" stop-color="#b41b01"/><stop offset=".39" stop-color="#810602"/><stop offset=".41" stop-color="#7a0403"/><stop offset=".58" stop-color="#7a0403"/><stop offset=".61" stop-color="#8e0a01"/><stop offset=".65" stop-color="#be2102"/><stop offset=".66" stop-color="#d43305"/><stop offset=".68" stop-color="#e7490c"/><stop offset=".71" stop-color="#fb7e21"/><stop offset=".76" stop-color="#fea732"/><stop offset=".81" stop-color="#f7c13a"/><stop offset=".91" stop-color="#ebd339"/><stop offset="1" stop-color="#e7d739"/></linearGradient><linearGradient id="g0_26" gradientUnits="userSpaceOnUse" x1="42.45" x2="356.05" y1="0" y2="0"><stop offset="0" stop-color="#f7c13a"/><stop offset=".08" stop-color="#f8be39"/><stop offset=".16" stop-color="#fcb136"/><stop offset=".22" stop-color="#fe992c"/><stop offset=".27" stop-color="#f9751d"/><stop offset=".29" stop-color="#ef5811"/><stop offset=".32" stop-color="#da3907"/><stop offset=".34" stop-color="#b91e02"/><stop offset=".37" stop-color="#920b01"/><stop offset=".38" stop-color="#7e0502"/><stop offset=".39" stop-color="#7a0403"/><stop offset=".59" stop-color="#7a0403"/><stop offset=".62" stop-color="#880802"/><stop offset=".64" stop-color="#9e1001"/><stop offset=".66" stop-color="#bc2002"/><stop offset=".67" stop-color="#da3907"/><stop offset=".69" stop-color="#ea4e0d"/><stop offset=".72" stop-color="#f9751d"/><stop offset=".74" stop-color="#fe9029"/><stop offset=".77" stop-color="#fea732"/><stop offset=".83" stop-color="#f7c13a"/><stop offset=".91" stop-color="#ecd13a"/><stop offset="1" stop-color="#e9d539"/></linearGradient><linearGradient id="g1_0" gradientUnits="userSpaceOnUse" x1="42.45" x2="356.05" y1="0" y2="0"><stop offset="0" stop-color="#ebd339"/><stop offset=".07" stop-color="#e9d539"/><stop offset=".14" stop-color="#dfdf37"/><stop offset=".18" stop-color="#d0ea34"/><stop offset=".23" stop-color="#affa37"/><stop offset=".26" stop-color="#96fe44"/><stop offset=".29" stop-color="#6dfe62"/><stop offset=".31" stop-color="#43f787"/><stop offset=".32" stop-color="#2ff19b"/><stop offset=".34" stop-color="#1ce6b4"/><stop offset=".34" stop-color="#18dec0"/><stop offset=".36" stop-color="#20c7df"/><stop offset=".37" stop-color="#37a8fa"/><stop offset=".38" stop-color="#4196ff"/><stop offset=".39" stop-color="#4682f8"/><stop offset=".39" stop-color="#4776ee"/><stop offset=".4" stop-color="#4661d6"/><stop offset=".41" stop-color="#424bb5"/><stop offset=".41" stop-color="#3c3286"/><stop offset=".42" stop-color="#36215f"/><stop offset=".42" stop-color="#341b51"/><stop offset=".42" stop-color="#30123b"/><stop offset=".46" stop-color="#30123b"/><stop offset=".46" stop-color="#321543"/><stop offset=".46" stop-color="#36215f"/><stop offset=".47" stop-color="#3d358b"/><stop offset=".47" stop-color="#4451bf"/><stop offset=".48" stop-color="#4669e0"/><stop offset=".49" stop-color="#4776ee"/><stop offset=".5" stop-color="#4685fa"/><stop offset=".51" stop-color="#4099ff"/><stop offset=".52" stop-color="#4099ff"/><stop offset=".53" stop-color="#458afc"/><stop offset=".54" stop-color="#467df4"/><stop offset=".55" stop-color="#4661d6"/><stop offset=".56" stop-color="#434eba"/><stop offset=".57" stop-color="#4146ac"/><stop offset=".57" stop-color="#4146ac"/><stop offset=".58" stop-color="#4451bf"/><stop offset=".6" stop-color="#4771e9"/><stop offset=".61" stop-color="#4778f0"/><stop offset=".61" stop-color="#458afc"/><stop offset=".62" stop-color="#4099ff"/><stop offset=".63" stop-color="#2eb4f2"/><stop offset=".64" stop-color="#28bceb"/><stop offset=".65" stop-color="#1ccdd8"/><stop offset=".65" stop-color="#18d9c8"/><stop offset=".66" stop-color="#1ae4b6"/><stop offset=".68" stop-color="#32f298"/><stop offset=".7" stop-color="#52fa7a"/><stop offset=".73" stop-color="#80ff53"/><stop offset=".75" stop-color="#9cfe40"/><stop offset=".78" stop-color="#b1f936"/><stop offset=".8" stop-color="#c1f334"/><stop offset=".85" stop-color="#d7e535"/><stop offset=".92" stop-color="#e3db38"/><stop offset="1" stop-color="#e7d739"/></linearGradient><linearGradient id="g1_1" gradientUnits="userSpaceOnUse" x1="42.45" x2="356.05" y1="0" y2="0"><stop offset="0" stop-color="#ebd339"/><stop offset=".07" stop-color="#e9d539"/><stop offset=".14" stop-color="#dfdf37"/><stop offset=".18" stop-color="#d0ea34"/><stop offset=".24" stop-color="#affa37"/><stop offset=".26" stop-color="#96fe44"/><stop offset=".29" stop-color="#6dfe62"/><stop offset=".31" stop-color="#52fa7a"/><stop offset=".31" stop-color="#4af880"/><stop offset=".32" stop-color="#35f394"/><stop offset=".34" stop-color="#20eaac"/><stop offset=".35" stop-color="#18dec0"/><stop offset=".36" stop-color="#1ccdd8"/><stop offset=".38" stop-color="#2fb2f4"/><stop offset=".39" stop-color="#3d9efe"/><stop offset=".4" stop-color="#4685fa"/><stop offset=".42" stop-color="#4776ee"/><stop offset=".42" stop-color="#4776ee"/><stop offset=".43" stop-color="#467df4"/><stop offset=".44" stop-color="#448ffe"/><stop offset=".45" stop-color="#3aa3fc"/><stop offset=".46" stop-color="#22c5e2"/><stop offset=".47" stop-color="#18d7ca"/><stop offset=".48" stop-color="#19e3b9"/><stop offset=".48" stop-color="#1fe9af"/><stop offset=".49" stop-color="#2cf09e"/><stop offset=".5" stop-color="#32f298"/><stop offset=".51" stop-color="#35f394"/><stop offset=".52" stop-color="#32f298"/><stop offset=".53" stop-color="#2aefa1"/><stop offset=".54" stop-color="#19e3b9"/><stop offset=".54" stop-color="#18d9c8"/><stop offset=".55" stop-color="#1bd0d5"/><stop offset=".56" stop-color="#2eb4f2"/><stop offset=".57" stop-color="#37a8fa"/><stop offset=".58" stop-color="#4196ff"/><stop offset=".58" stop-color="#448ffe"/><stop offset=".59" stop-color="#4391fe"/><stop offset=".61" stop-color="#3d9efe"/><stop offset=".62" stop-color="#2eb4f2"/><stop offset=".64" stop-color="#1ad2d2"/><stop offset=".66" stop-color="#1ae4b6"/><stop offset=".67" stop-color="#27eea4"/><stop offset=".69" stop-color="#46f884"/><stop offset=".73" stop-color="#80ff53"/><stop offset=".75" stop-color="#9cfe40"/><stop offset=".79" stop-color="#bcf534"/><stop offset=".83" stop-color="#d0ea34"/><stop offset=".85" stop-color="#d7e535"/><stop offset=".92" stop-color="#e3db38"/><stop offset="1" stop-color="#e7d739"/></linearGradient><linearGradient id="g1_2" gradientUnits="userSpaceOnUse" x1="42.45" x2="356.05" y1="0" y2="0"><stop offset="0" stop-color="#ebd339"/><stop offset=".08" stop-color="#e9d539"/><stop offset=".16" stop-color="#dbe236"/><stop offset=".2" stop-color="#cbed34"/><stop offset=".24" stop-color="#acfb38"/><stop offset=".26" stop-color="#9cfe40"/><stop offset=".28" stop-color="#80ff53"/><stop offset=".31" stop-color="#52fa7a"/><stop offset=".32" stop-color="#46f884"/><stop offset=".34" stop-color="#27eea4"/><stop offset=".36" stop-color="#18dec0"/><stop offset=".38" stop-color="#1ccdd8"/><stop offset=".4" stop-color="#22c5e2"/><stop offset=".42" stop-color="#1fc9dd"/><stop offset=".44" stop-color="#18e0bd"/><stop offset=".44" stop-color="#20eaac"/><stop offset=".45" stop-color="#35f394"/><stop offset=".47" stop-color="#71fe5f"/><stop offset=".49" stop-color="#92ff47"/><stop offset=".5" stop-color="#9cfe40"/><stop offset=".51" stop-color="#9cfe40"/><stop offset=".52" stop-color="#96fe44"/><stop offset=".53" stop-color="#79fe59"/><stop offset=".55" stop-color="#46f884"/><stop offset=".56" stop-color="#25eca7"/><stop offset=".57" stop-color="#1ae4b6"/><stop offset=".59" stop-color="#1bd0d5"/><stop offset=".61" stop-color="#1ccdd8"/><stop offset=".64" stop-color="#18e0bd"/><stop offset=".66" stop-color="#22ebaa"/><stop offset=".68" stop-color="#46f884"/><stop offset=".72" stop-color="#80ff53"/><stop offset=".74" stop-color="#9ffd3f"/><stop offset=".76" stop-color="#a7fc3a"/><stop offset=".81" stop-color="#cbed34"/><stop offset=".85" stop-color="#d9e436"/><stop offset=".93" stop-color="#e5d938"/><stop offset="1" stop-color="#e7d739"/></linearGradient><linearGradient id="g1_3" gradientUnits="userSpaceOnUse" x1="42.45" x2="356.05" y1="0" y2="0"><stop offset="0" stop-color="#ebd339"/><stop offset=".06" stop-color="#ebd339"/><stop offset=".13" stop-color="#e3db38"/><stop offset=".17" stop-color="#d9e436"/><stop offset=".21" stop-color="#c6f034"/><stop offset=".24" stop-color="#b1f936"/><stop offset=".27" stop-color="#99fe42"/><stop offset=".29" stop-color="#80ff53"/><stop offset=".31" stop-color="#65fd69"/><stop offset=".31" stop-color="#65fd69"/><stop offset=".34" stop-color="#3cf58e"/><stop offset=".36" stop-color="#2cf09e"/><stop offset=".38" stop-color="#25eca7"/><stop offset=".4" stop-color="#25eca7"/><stop offset=".41" stop-color="#32f298"/><stop offset=".42" stop-color="#43f787"/><stop offset=".43" stop-color="#55fa76"/><stop offset=".45" stop-color="#8fff49"/><stop offset=".46" stop-color="#a9fb39"/><stop offset=".47" stop-color="#cdec34"/><stop offset=".48" stop-color="#d7e535"/><stop offset=".5" stop-color="#dfdf37"/><stop offset=".51" stop-color="#dfdf37"/><stop offset=".53" stop-color="#d2e935"/><stop offset=".54" stop-color="#bcf534"/><stop offset=".55" stop-color="#a7fc3a"/><stop offset=".56" stop-color="#92ff47"/><stop offset=".57" stop-color="#59fb73"/><stop offset=".58" stop-color="#3cf58e"/><stop offset=".6" stop-color="#2aefa1"/><stop offset=".62" stop-color="#25eca7"/><stop offset=".65" stop-color="#2ff19b"/><stop offset=".66" stop-color="#38f491"/><stop offset=".68" stop-color="#55fa76"/><stop offset=".71" stop-color="#80ff53"/><stop offset=".71" stop-color="#80ff53"/><stop offset=".73" stop-color="#96fe44"/><stop offset=".76" stop-color="#affa37"/><stop offset=".81" stop-color="#cbed34"/><stop offset=".84" stop-color="#d9e436"/><stop offset=".92" stop-color="#e5d938"/><stop offset="1" stop-color="#e7d739"/></linearGradient><linearGradient id="g1_4" gradientUnits="userSpaceOnUse" x1="42.45" x2="356.05" y1="0" y2="0"><stop offset="0" stop-color="#ecd13a"/><stop offset=".1" stop-color="#e9d539"/><stop offset=".2" stop-color="#d7e535"/><stop offset=".25" stop-color="#c1f334"/><stop offset=".27" stop-color="#b1f936"/><stop offset=".32" stop-color="#92ff47"/><stop offset=".35" stop-color="#88ff4e"/><stop offset=".37" stop-color="#8fff49"/><stop offset=".4" stop-color="#a7fc3a"/><stop offset=".41" stop-color="#b7f735"/><stop offset=".42" stop-color="#d2e935"/><stop offset=".44" stop-color="#f1cb3a"/><stop offset=".45" stop-color="#faba39"/><stop offset=".47" stop-color="#fea933"/><stop offset=".48" stop-color="#fe9b2d"/><stop offset=".49" stop-color="#fe962b"/><stop offset=".51" stop-color="#fe962b"/><stop offset=".53" stop-color="#fea431"/><stop offset=".56" stop-color="#f4c73a"/><stop offset=".58" stop-color="#d9e436"/><stop offset=".6" stop-color="#b1f936"/><stop offset=".62" stop-color="#8fff49"/><stop offset=".64" stop-color="#88ff4e"/><stop offset=".67" stop-color="#8bff4b"/><stop offset=".74" stop-color="#b1f936"/><stop offset=".78" stop-color="#cbed34"/><stop offset=".82" stop-color="#d7e535"/><stop offset=".9" stop-color="#e5d938"/><stop offset="1" stop-color="#e9d539"/></linearGradient><linearGradient id="g1_5" gradientUnits="userSpaceOnUse" x1="42.45" x2="356.05" y1="0" y2="0"><stop offset="0" stop-color="#eecf3a"/><stop offset=".15" stop-color="#e7d739"/><stop offset=".24" stop-color="#d7e535"/><stop offset=".29" stop-color="#c8ef34"/><stop offset=".33" stop-color="#c8ef34"/><stop offset=".34" stop-color="#cdec34"/><stop offset=".36" stop-color="#d9e436"/><stop offset=".39" stop-color="#ebd339"/><stop offset=".41" stop-color="#faba39"/><stop offset=".42" stop-color="#fea933"/><stop offset=".44" stop-color="#fd8a26"/><stop offset=".47" stop-color="#f36315"/><stop offset=".49" stop-color="#ef5811"/><stop offset=".51" stop-color="#ef5811"/><stop offset=".53" stop-color="#f36315"/><stop offset=".56" stop-color="#fc8725"/><stop offset=".58" stop-color="#fea933"/><stop offset=".6" stop-color="#f7c13a"/><stop offset=".62" stop-color="#e3db38"/><stop offset=".65" stop-color="#cdec34"/><stop offset=".67" stop-color="#c6f034"/><stop offset=".71" stop-color="#c6f034"/><stop offset=".78" stop-color="#d7e535"/><stop offset=".85" stop-color="#e3db38"/><stop offset="1" stop-color="#ebd339"/></linearGradient><linearGradient id="g1_6" gradientUnits="userSpaceOnUse" x1="42.45" x2="356.05" y1="0" y2="0"><stop offset="0" stop-color="#efcd3a"/><stop offset=".18" stop-color="#ebd339"/><stop offset=".24" stop-color="#e5d938"/><stop offset=".31" stop-color="#ebd339"/><stop offset=".36" stop-color="#f9bc39"/><stop offset=".38" stop-color="#fea732"/><stop offset=".4" stop-color="#fe9029"/><stop offset=".43" stop-color="#f46617"/><stop offset=".45" stop-color="#e84b0c"/><stop offset=".48" stop-color="#d63506"/><stop offset=".51" stop-color="#d23105"/><stop offset=".53" stop-color="#dc3b07"/><stop offset=".55" stop-color="#e84b0c"/><stop offset=".58" stop-color="#f8721c"/><stop offset=".6" stop-color="#fe932a"/><stop offset=".64" stop-color="#faba39"/><stop offset=".66" stop-color="#f1cb3a"/><stop offset=".69" stop-color="#e9d539"/><stop offset=".72" stop-color="#e3db38"/><stop offset=".78" stop-color="#e3db38"/><stop offset=".89" stop-color="#ebd339"/><stop offset="1" stop-color="#ecd13a"/></linearGradient><linearGradient id="g1_7" gradientUnits="userSpaceOnUse" x1="42.45" x2="356.05" y1="0" y2="0"><stop offset="0" stop-color="#f1cb3a"/><stop offset=".2" stop-color="#efcd3a"/><stop offset=".28" stop-color="#f6c33a"/><stop offset=".32" stop-color="#fbb637"/><stop offset=".34" stop-color="#fea732"/><stop offset=".38" stop-color="#f9751d"/><stop offset=".41" stop-color="#e84b0c"/><stop offset=".45" stop-color="#cc2b04"/><stop offset=".47" stop-color="#b41b01"/><stop offset=".49" stop-color="#af1801"/><stop offset=".51" stop-color="#af1801"/><stop offset=".53" stop-color="#b71d02"/><stop offset=".56" stop-color="#ce2d04"/><stop offset=".59" stop-color="#ea4e0d"/><stop offset=".62" stop-color="#f9751d"/><stop offset=".64" stop-color="#fe932a"/><stop offset=".66" stop-color="#fea732"/><stop offset=".71" stop-color="#f6c33a"/><stop offset=".78" stop-color="#eecf3a"/><stop offset="1" stop-color="#eecf3a"/></linearGradient><linearGradient id="g1_8" gradientUnits="userSpaceOnUse" x1="42.45" x2="356.05" y1="0" y2="0"><stop offset="0" stop-color="#f2c93a"/><stop offset=".17" stop-color="#f4c73a"/><stop offset=".22" stop-color="#f7c13a"/><stop offset=".27" stop-color="#fbb637"/><stop offset=".29" stop-color="#fdac34"/><stop offset=".32" stop-color="#fe992c"/><stop offset=".36" stop-color="#f56918"/><stop offset=".36" stop-color="#f36315"/><stop offset=".4" stop-color="#df3f08"/><stop offset=".42" stop-color="#be2102"/><stop offset=".45" stop-color="#a91601"/><stop offset=".47" stop-color="#950d01"/><stop offset=".51" stop-color="#8e0a01"/><stop offset=".54" stop-color="#9b0f01"/><stop offset=".57" stop-color="#b91e02"/><stop offset=".59" stop-color="#d63506"/><stop offset=".62" stop-color="#e7490c"/><stop offset=".63" stop-color="#f05b12"/><stop offset=".67" stop-color="#fe932a"/><stop offset=".7" stop-color="#fea732"/><stop offset=".74" stop-color="#fbb838"/><stop offset=".78" stop-color="#f6c33a"/><stop offset=".82" stop-color="#f2c93a"/><stop offset="1" stop-color="#efcd3a"/></linearGradient><linearGradient id="g1_9" gradientUnits="userSpaceOnUse" x1="42.45" x2="356.05" y1="0" y2="0"><stop offset="0" stop-color="#f4c73a"/><stop offset=".13" stop-color="#f5c53a"/><stop offset=".21" stop-color="#fbb838"/><stop offset=".26" stop-color="#fea732"/><stop offset=".29" stop-color="#fe992c"/><stop offset=".32" stop-color="#fb7e21"/><stop offset=".36" stop-color="#ea4e0d"/><stop offset=".38" stop-color="#d23105"/><stop offset=".41" stop-color="#af1801"/><stop offset=".45" stop-color="#8b0902"/><stop offset=".47" stop-color="#810602"/><stop offset=".52" stop-color="#7e0502"/><stop offset=".56" stop-color="#8e0a01"/><stop offset=".6" stop-color="#b91e02"/><stop offset=".63" stop-color="#df3f08"/><stop offset=".66" stop-color="#f26014"/><stop offset=".67" stop-color="#f9751d"/><stop offset=".71" stop-color="#fe932a"/><stop offset=".73" stop-color="#fea732"/><stop offset=".78" stop-color="#faba39"/><stop offset=".89" stop-color="#f2c93a"/><stop offset="1" stop-color="#f1cb3a"/></linearGradient><linearGradient id="g1_10" gradientUnits="userSpaceOnUse" x1="42.45" x2="356.05" y1="0" y2="0"><stop offset="0" stop-color="#f4c73a"/><stop offset=".11" stop-color="#f6c33a"/><stop offset=".19" stop-color="#fbb838"/><stop offset=".24" stop-color="#fea431"/><stop offset=".27" stop-color="#fe932a"/><stop offset=".29" stop-color="#fb7e21"/><stop offset=".32" stop-color="#f36315"/><stop offset=".34" stop-color="#e84b0c"/><stop offset=".34" stop-color="#e4450a"/><stop offset=".38" stop-color="#be2102"/><stop offset=".41" stop-color="#920b01"/><stop offset=".43" stop-color="#810602"/><stop offset=".45" stop-color="#7e0502"/><stop offset=".45" stop-color="#7a0403"/><stop offset=".55" stop-color="#7a0403"/><stop offset=".58" stop-color="#8b0902"/><stop offset=".62" stop-color="#b91e02"/><stop offset=".64" stop-color="#d63506"/><stop offset=".67" stop-color="#ea4e0d"/><stop offset=".71" stop-color="#fb7e21"/><stop offset=".74" stop-color="#fe992c"/><stop offset=".76" stop-color="#fea732"/><stop offset=".81" stop-color="#fbb838"/><stop offset=".9" stop-color="#f4c73a"/><stop offset="1" stop-color="#f2c93a"/></linearGradient><linearGradient id="g1_11" gradientUnits="userSpaceOnUse" x1="42.45" x2="356.05" y1="0" y2="0"><stop offset="0" stop-color="#f5c53a"/><stop offset=".09" stop-color="#f6c33a"/><stop offset=".17" stop-color="#fbb637"/><stop offset=".23" stop-color="#fea431"/><stop offset=".26" stop-color="#fe9029"/><stop offset=".28" stop-color="#fb7e21"/><stop offset=".31" stop-color="#ef5811"/><stop offset=".33" stop-color="#e14109"/><stop offset=".36" stop-color="#be2102"/><stop offset=".39" stop-color="#920b01"/><stop offset=".4" stop-color="#880802"/><stop offset=".42" stop-color="#7a0403"/><stop offset=".57" stop-color="#7a0403"/><stop offset=".6" stop-color="#8b0902"/><stop offset=".64" stop-color="#bc2002"/><stop offset=".67" stop-color="#e4450a"/><stop offset=".69" stop-color="#ef5811"/><stop offset=".71" stop-color="#f9751d"/><stop offset=".73" stop-color="#fd8a26"/><stop offset=".76" stop-color="#fe9e2f"/><stop offset=".82" stop-color="#fbb637"/><stop offset=".91" stop-color="#f5c53a"/><stop offset="1" stop-color="#f4c73a"/></linearGradient><linearGradient id="g1_12" gradientUnits="userSpaceOnUse" x1="42.45" x2="356.05" y1="0" y2="0"><stop offset="0" stop-color="#f5c53a"/><stop offset=".1" stop-color="#f7c13a"/><stop offset=".18" stop-color="#fcb136"/><stop offset=".21" stop-color="#fea732"/><stop offset=".24" stop-color="#fe932a"/><stop offset=".28" stop-color="#f9751d"/><stop offset=".3" stop-color="#ef5811"/><stop offset=".33" stop-color="#da3907"/><stop offset=".34" stop-color="#cc2b04"/><stop offset=".36" stop-color="#af1801"/><stop offset=".38" stop-color="#8e0a01"/><stop offset=".41" stop-color="#7a0403"/><stop offset=".59" stop-color="#7a0403"/><stop offset=".62" stop-color="#880802"/><stop offset=".65" stop-color="#b41b01"/><stop offset=".68" stop-color="#e14109"/><stop offset=".7" stop-color="#f15d13"/><stop offset=".72" stop-color="#f9751d"/><stop offset=".76" stop-color="#fe992c"/><stop offset=".81" stop-color="#fcb136"/><stop offset=".88" stop-color="#f7c13a"/><stop offset="1" stop-color="#f4c73a"/></linearGradient><linearGradient id="g1_13" gradientUnits="userSpaceOnUse" x1="42.45" x2="356.05" y1="0" y2="0"><stop offset="0" stop-color="#f5c53a"/><stop offset=".09" stop-color="#f7c13a"/><stop offset=".18" stop-color="#fcb136"/><stop offset=".24" stop-color="#fe962b"/><stop offset=".27" stop-color="#f9751d"/><stop offset=".29" stop-color="#f15d13"/><stop offset=".32" stop-color="#e14109"/><stop offset=".34" stop-color="#be2102"/><stop offset=".38" stop-color="#880802"/><stop offset=".4" stop-color="#7a0403"/><stop offset=".6" stop-color="#7a0403"/><stop offset=".62" stop-color="#850702"/><stop offset=".65" stop-color="#b41b01"/><stop offset=".67" stop-color="#cc2b04"/><stop offset=".69" stop-color="#e4450a"/><stop offset=".72" stop-color="#f9751d"/><stop offset=".77" stop-color="#fe9b2d"/><stop offset=".83" stop-color="#fbb637"/><stop offset=".91" stop-color="#f6c33a"/><stop offset="1" stop-color="#f4c73a"/></linearGradient><linearGradient id="g1_14" gradientUnits="userSpaceOnUse" x1="42.45" x2="356.05" y1="0" y2="0"><stop offset="0" stop-color="#ebd339"/><stop offset=".07" stop-color="#e9d539"/><stop offset=".14" stop-color="#dfdf37"/><stop offset=".18" stop-color="#d0ea34"/><stop offset=".23" stop-color="#affa37"/><stop offset=".26" stop-color="#96fe44"/><stop offset=".29" stop-color="#6dfe62"/><stop offset=".29" stop-color="#5dfc6f"/><stop offset=".3" stop-color="#55fa76"/><stop offset=".32" stop-color="#2ff19b"/><stop offset=".34" stop-color="#1ce6b4"/><stop offset=".34" stop-color="#18dec0"/><stop offset=".36" stop-color="#20c7df"/><stop offset=".37" stop-color="#37a8fa"/><stop offset=".38" stop-color="#4196ff"/><stop offset=".39" stop-color="#4682f8"/><stop offset=".39" stop-color="#4776ee"/><stop offset=".4" stop-color="#4661d6"/><stop offset=".41" stop-color="#4143a7"/><stop offset=".41" stop-color="#3c3286"/><stop offset=".42" stop-color="#33184a"/><stop offset=".42" stop-color="#30123b"/><stop offset=".46" stop-color="#30123b"/><stop offset=".46" stop-color="#321543"/><stop offset=".47" stop-color="#3c3286"/><stop offset=".47" stop-color="#4146ac"/><stop offset=".48" stop-color="#4456c7"/><stop offset=".49" stop-color="#4776ee"/><stop offset=".5" stop-color="#4687fb"/><stop offset=".51" stop-color="#4099ff"/><stop offset=".52" stop-color="#4099ff"/><stop offset=".52" stop-color="#4294ff"/><stop offset=".54" stop-color="#4680f6"/><stop offset=".54" stop-color="#4771e9"/><stop offset=".56" stop-color="#4249b1"/><stop offset=".57" stop-color="#4143a7"/><stop offset=".58" stop-color="#4454c3"/><stop offset=".6" stop-color="#466be3"/><stop offset=".61" stop-color="#4682f8"/><stop offset=".62" stop-color="#4099ff"/><stop offset=".63" stop-color="#2eb4f2"/><stop offset=".65" stop-color="#1ccdd8"/><stop offset=".65" stop-color="#18d9c8"/><stop offset=".66" stop-color="#1ae4b6"/><stop offset=".68" stop-color="#32f298"/><stop offset=".7" stop-color="#52fa7a"/><stop offset=".73" stop-color="#80ff53"/><stop offset=".75" stop-color="#9cfe40"/><stop offset=".78" stop-color="#b1f936"/><stop offset=".8" stop-color="#c1f334"/><stop offset=".85" stop-color="#d7e535"/><stop offset=".92" stop-color="#e3db38"/><stop offset="1" stop-color="#e7d739"/></linearGradient><linearGradient id="g1_15" gradientUnits="userSpaceOnUse" x1="42.45" x2="356.05" y1="0" y2="0"><stop offset="0" stop-color="#ebd339"/><stop offset=".07" stop-color="#e9d539"/><stop offset=".14" stop-color="#dfdf37"/><stop offset=".18" stop-color="#d0ea34"/><stop offset=".24" stop-color="#affa37"/><stop offset=".26" stop-color="#96fe44"/><stop offset=".29" stop-color="#6dfe62"/><stop offset=".31" stop-color="#52fa7a"/><stop offset=".31" stop-color="#4af880"/><stop offset=".32" stop-color="#35f394"/><stop offset=".34" stop-color="#20eaac"/><stop offset=".35" stop-color="#18dec0"/><stop offset=".36" stop-color="#1ccdd8"/><stop offset=".38" stop-color="#2fb2f4"/><stop offset=".39" stop-color="#3d9efe"/><stop offset=".4" stop-color="#458afc"/><stop offset=".41" stop-color="#467df4"/><stop offset=".42" stop-color="#4776ee"/><stop offset=".42" stop-color="#4776ee"/><stop offset=".44" stop-color="#4680f6"/><stop offset=".44" stop-color="#448ffe"/><stop offset=".45" stop-color="#37a8fa"/><stop offset=".46" stop-color="#2cb7f0"/><stop offset=".47" stop-color="#1ad2d2"/><stop offset=".47" stop-color="#18e0bd"/><stop offset=".49" stop-color="#27eea4"/><stop offset=".5" stop-color="#35f394"/><stop offset=".51" stop-color="#38f491"/><stop offset=".53" stop-color="#2aefa1"/><stop offset=".53" stop-color="#20eaac"/><stop offset=".54" stop-color="#18e0bd"/><stop offset=".55" stop-color="#1ccdd8"/><stop offset=".56" stop-color="#2eb4f2"/><stop offset=".57" stop-color="#37a8fa"/><stop offset=".57" stop-color="#4099ff"/><stop offset=".58" stop-color="#448ffe"/><stop offset=".59" stop-color="#448ffe"/><stop offset=".61" stop-color="#4099ff"/><stop offset=".62" stop-color="#2eb4f2"/><stop offset=".64" stop-color="#1ad2d2"/><stop offset=".66" stop-color="#1ae4b6"/><stop offset=".67" stop-color="#2aefa1"/><stop offset=".69" stop-color="#46f884"/><stop offset=".73" stop-color="#80ff53"/><stop offset=".75" stop-color="#9cfe40"/><stop offset=".79" stop-color="#bcf534"/><stop offset=".83" stop-color="#d0ea34"/><stop offset=".85" stop-color="#d7e535"/><stop offset=".91" stop-color="#e3db38"/><stop offset="1" stop-color="#e7d739"/></linearGradient><linearGradient id="g1_16" gradientUnits="userSpaceOnUse" x1="42.45" x2="356.05" y1="0" y2="0"><stop offset="0" stop-color="#ebd339"/><stop offset=".08" stop-color="#e9d539"/><stop offset=".16" stop-color="#dbe236"/><stop offset=".2" stop-color="#cbed34"/><stop offset=".24" stop-color="#acfb38"/><stop offset=".26" stop-color="#9cfe40"/><stop offset=".28" stop-color="#80ff53"/><stop offset=".31" stop-color="#52fa7a"/><stop offset=".32" stop-color="#46f884"/><stop offset=".34" stop-color="#27eea4"/><stop offset=".36" stop-color="#18dec0"/><stop offset=".39" stop-color="#1fc9dd"/><stop offset=".4" stop-color="#22c5e2"/><stop offset=".42" stop-color="#1fc9dd"/><stop offset=".42" stop-color="#1bd0d5"/><stop offset=".43" stop-color="#18d7ca"/><stop offset=".44" stop-color="#19e3b9"/><stop offset=".44" stop-color="#1fe9af"/><stop offset=".45" stop-color="#35f394"/><stop offset=".48" stop-color="#80ff53"/><stop offset=".49" stop-color="#8fff49"/><stop offset=".5" stop-color="#9ffd3f"/><stop offset=".51" stop-color="#9ffd3f"/><stop offset=".52" stop-color="#8fff49"/><stop offset=".53" stop-color="#80ff53"/><stop offset=".54" stop-color="#5dfc6f"/><stop offset=".56" stop-color="#2aefa1"/><stop offset=".57" stop-color="#1ae4b6"/><stop offset=".58" stop-color="#19d5cd"/><stop offset=".59" stop-color="#1ccdd8"/><stop offset=".61" stop-color="#1ecbda"/><stop offset=".62" stop-color="#1bd0d5"/><stop offset=".64" stop-color="#18e0bd"/><stop offset=".66" stop-color="#22ebaa"/><stop offset=".68" stop-color="#46f884"/><stop offset=".72" stop-color="#80ff53"/><stop offset=".76" stop-color="#a7fc3a"/><stop offset=".81" stop-color="#cbed34"/><stop offset=".85" stop-color="#d9e436"/><stop offset=".93" stop-color="#e5d938"/><stop offset="1" stop-color="#e7d739"/></linearGradient><linearGradient id="g1_17" gradientUnits="userSpaceOnUse" x1="42.45" x2="356.05" y1="0" y2="0"><stop offset="0" stop-color="#ecd13a"/><stop offset=".11" stop-color="#e7d739"/><stop offset=".16" stop-color="#dde037"/><stop offset=".2" stop-color="#d0ea34"/><stop offset=".25" stop-color="#b1f936"/><stop offset=".28" stop-color="#9cfe40"/><stop offset=".33" stop-color="#69fd66"/><stop offset=".36" stop-color="#55fa76"/><stop offset=".38" stop-color="#55fa76"/><stop offset=".39" stop-color="#5dfc6f"/><stop offset=".41" stop-color="#79fe59"/><stop offset=".43" stop-color="#acfb38"/><stop offset=".45" stop-color="#d0ea34"/><stop offset=".46" stop-color="#e7d739"/><stop offset=".47" stop-color="#f4c73a"/><stop offset=".49" stop-color="#faba39"/><stop offset=".5" stop-color="#fbb637"/><stop offset=".52" stop-color="#faba39"/><stop offset=".53" stop-color="#f5c53a"/><stop offset=".54" stop-color="#e9d539"/><stop offset=".56" stop-color="#d4e735"/><stop offset=".57" stop-color="#affa37"/><stop offset=".58" stop-color="#99fe42"/><stop offset=".59" stop-color="#75fe5c"/><stop offset=".61" stop-color="#5dfc6f"/><stop offset=".62" stop-color="#55fa76"/><stop offset=".65" stop-color="#55fa76"/><stop offset=".65" stop-color="#59fb73"/><stop offset=".68" stop-color="#6dfe62"/><stop offset=".72" stop-color="#99fe42"/><stop offset=".74" stop-color="#a9fb39"/><stop offset=".77" stop-color="#bcf534"/><stop offset=".81" stop-color="#d0ea34"/><stop offset=".9" stop-color="#e3db38"/><stop offset="1" stop-color="#e7d739"/></linearGradient><linearGradient id="g1_18" gradientUnits="userSpaceOnUse" x1="42.45" x2="356.05" y1="0" y2="0"><stop offset="0" stop-color="#ecd13a"/><stop offset=".09" stop-color="#ebd339"/><stop offset=".16" stop-color="#e3db38"/><stop offset=".23" stop-color="#d2e935"/><stop offset=".3" stop-color="#b1f936"/><stop offset=".33" stop-color="#acfb38"/><stop offset=".36" stop-color="#b1f936"/><stop offset=".39" stop-color="#cdec34"/><stop offset=".41" stop-color="#ebd339"/><stop offset=".43" stop-color="#fbb838"/><stop offset=".47" stop-color="#fc8423"/><stop offset=".49" stop-color="#f9751d"/><stop offset=".51" stop-color="#f8721c"/><stop offset=".53" stop-color="#fb8122"/><stop offset=".54" stop-color="#fe9029"/><stop offset=".57" stop-color="#fbb838"/><stop offset=".59" stop-color="#ebd339"/><stop offset=".61" stop-color="#d0ea34"/><stop offset=".64" stop-color="#b1f936"/><stop offset=".67" stop-color="#a9fb39"/><stop offset=".69" stop-color="#acfb38"/><stop offset=".78" stop-color="#d0ea34"/><stop offset=".85" stop-color="#e1dd37"/><stop offset="1" stop-color="#e9d539"/></linearGradient><linearGradient id="g1_19" gradientUnits="userSpaceOnUse" x1="42.45" x2="356.05" y1="0" y2="0"><stop offset="0" stop-color="#eecf3a"/><stop offset=".14" stop-color="#ebd339"/><stop offset=".26" stop-color="#dbe236"/><stop offset=".33" stop-color="#dfdf37"/><stop offset=".36" stop-color="#eecf3a"/><stop offset=".38" stop-color="#f9bc39"/><stop offset=".4" stop-color="#fea933"/><stop offset=".42" stop-color="#fc8423"/><stop offset=".46" stop-color="#ed5510"/><stop offset=".47" stop-color="#e5470b"/><stop offset=".51" stop-color="#e14109"/><stop offset=".53" stop-color="#e7490c"/><stop offset=".55" stop-color="#f15d13"/><stop offset=".56" stop-color="#f66c19"/><stop offset=".58" stop-color="#fe9029"/><stop offset=".6" stop-color="#fea933"/><stop offset=".62" stop-color="#f5c53a"/><stop offset=".67" stop-color="#dfdf37"/><stop offset=".72" stop-color="#d7e535"/><stop offset=".86" stop-color="#e7d739"/><stop offset="1" stop-color="#ebd339"/></linearGradient><linearGradient id="g1_20" gradientUnits="userSpaceOnUse" x1="42.45" x2="356.05" y1="0" y2="0"><stop offset="0" stop-color="#efcd3a"/><stop offset=".25" stop-color="#ecd13a"/><stop offset=".31" stop-color="#f5c53a"/><stop offset=".35" stop-color="#fdac34"/><stop offset=".39" stop-color="#fb7e21"/><stop offset=".43" stop-color="#e84b0c"/><stop offset=".45" stop-color="#d63506"/><stop offset=".46" stop-color="#cc2b04"/><stop offset=".49" stop-color="#be2102"/><stop offset=".51" stop-color="#be2102"/><stop offset=".54" stop-color="#cc2b04"/><stop offset=".56" stop-color="#df3f08"/><stop offset=".59" stop-color="#f26014"/><stop offset=".6" stop-color="#f9751d"/><stop offset=".62" stop-color="#fe9029"/><stop offset=".65" stop-color="#fdac34"/><stop offset=".67" stop-color="#f7c13a"/><stop offset=".7" stop-color="#f1cb3a"/><stop offset=".74" stop-color="#ebd339"/><stop offset="1" stop-color="#ecd13a"/></linearGradient><linearGradient id="g1_21" gradientUnits="userSpaceOnUse" x1="42.45" x2="356.05" y1="0" y2="0"><stop offset="0" stop-color="#f1cb3a"/><stop offset=".19" stop-color="#f2c93a"/><stop offset=".26" stop-color="#f7c13a"/><stop offset=".28" stop-color="#faba39"/><stop offset=".31" stop-color="#fdac34"/><stop offset=".33" stop-color="#fe992c"/><stop offset=".37" stop-color="#f76f1a"/><stop offset=".4" stop-color="#ea4e0d"/><stop offset=".43" stop-color="#c52603"/><stop offset=".46" stop-color="#af1801"/><stop offset=".47" stop-color="#a11201"/><stop offset=".51" stop-color="#9b0f01"/><stop offset=".54" stop-color="#a91601"/><stop offset=".57" stop-color="#c52603"/><stop offset=".59" stop-color="#e14109"/><stop offset=".62" stop-color="#f36315"/><stop offset=".66" stop-color="#fe9029"/><stop offset=".68" stop-color="#fea431"/><stop offset=".72" stop-color="#f9bc39"/><stop offset=".8" stop-color="#f1cb3a"/><stop offset="1" stop-color="#eecf3a"/></linearGradient><linearGradient id="g1_22" gradientUnits="userSpaceOnUse" x1="42.45" x2="356.05" y1="0" y2="0"><stop offset="0" stop-color="#f2c93a"/><stop offset=".13" stop-color="#f4c73a"/><stop offset=".24" stop-color="#fbb838"/><stop offset=".28" stop-color="#fea431"/><stop offset=".33" stop-color="#fb7e21"/><stop offset=".35" stop-color="#f26014"/><stop offset=".37" stop-color="#e84b0c"/><stop offset=".38" stop-color="#e4450a"/><stop offset=".4" stop-color="#cc2b04"/><stop offset=".42" stop-color="#b41b01"/><stop offset=".46" stop-color="#8b0902"/><stop offset=".47" stop-color="#850702"/><stop offset=".52" stop-color="#850702"/><stop offset=".56" stop-color="#980e01"/><stop offset=".59" stop-color="#be2102"/><stop offset=".62" stop-color="#dc3b07"/><stop offset=".64" stop-color="#ef5811"/><stop offset=".66" stop-color="#f9751d"/><stop offset=".69" stop-color="#fd8d27"/><stop offset=".72" stop-color="#fea732"/><stop offset=".77" stop-color="#f9bc39"/><stop offset=".86" stop-color="#f2c93a"/><stop offset="1" stop-color="#efcd3a"/></linearGradient><linearGradient id="g1_23" gradientUnits="userSpaceOnUse" x1="42.45" x2="356.05" y1="0" y2="0"><stop offset="0" stop-color="#f4c73a"/><stop offset=".13" stop-color="#f6c33a"/><stop offset=".21" stop-color="#fbb637"/><stop offset=".25" stop-color="#fea732"/><stop offset=".28" stop-color="#fe932a"/><stop offset=".3" stop-color="#fb7e21"/><stop offset=".34" stop-color="#ef5811"/><stop offset=".36" stop-color="#e14109"/><stop offset=".38" stop-color="#c12302"/><stop offset=".41" stop-color="#9e1001"/><stop offset=".43" stop-color="#880802"/><stop offset=".47" stop-color="#7a0403"/><stop offset=".53" stop-color="#7a0403"/><stop offset=".54" stop-color="#7e0502"/><stop offset=".56" stop-color="#810602"/><stop offset=".57" stop-color="#8b0902"/><stop offset=".62" stop-color="#be2102"/><stop offset=".64" stop-color="#d83706"/><stop offset=".66" stop-color="#ea4e0d"/><stop offset=".69" stop-color="#fb7e21"/><stop offset=".72" stop-color="#fe992c"/><stop offset=".75" stop-color="#fea732"/><stop offset=".8" stop-color="#faba39"/><stop offset=".88" stop-color="#f4c73a"/><stop offset="1" stop-color="#f1cb3a"/></linearGradient><linearGradient id="g1_24" gradientUnits="userSpaceOnUse" x1="42.45" x2="356.05" y1="0" y2="0"><stop offset="0" stop-color="#f5c53a"/><stop offset=".1" stop-color="#f6c33a"/><stop offset=".18" stop-color="#fbb637"/><stop offset=".23" stop-color="#fea431"/><stop offset=".26" stop-color="#fe932a"/><stop offset=".29" stop-color="#f9751d"/><stop offset=".33" stop-color="#ea4e0d"/><stop offset=".34" stop-color="#d83706"/><stop offset=".36" stop-color="#c12302"/><stop offset=".41" stop-color="#8b0902"/><stop offset=".43" stop-color="#7a0403"/><stop offset=".57" stop-color="#7a0403"/><stop offset=".6" stop-color="#8e0a01"/><stop offset=".64" stop-color="#c52603"/><stop offset=".66" stop-color="#dc3b07"/><stop offset=".67" stop-color="#eb500e"/><stop offset=".71" stop-color="#f9751d"/><stop offset=".73" stop-color="#fe9029"/><stop offset=".75" stop-color="#fe9e2f"/><stop offset=".81" stop-color="#fbb637"/><stop offset=".9" stop-color="#f5c53a"/><stop offset="1" stop-color="#f2c93a"/></linearGradient><linearGradient id="g1_25" gradientUnits="userSpaceOnUse" x1="42.45" x2="356.05" y1="0" y2="0"><stop offset="0" stop-color="#f5c53a"/><stop offset=".1" stop-color="#f7c13a"/><stop offset=".17" stop-color="#fbb637"/><stop offset=".21" stop-color="#fea732"/><stop offset=".24" stop-color="#fe992c"/><stop offset=".28" stop-color="#f9751d"/><stop offset=".32" stop-color="#e4450a"/><stop offset=".35" stop-color="#be2102"/><stop offset=".39" stop-color="#880802"/><stop offset=".41" stop-color="#7a0403"/><stop offset=".58" stop-color="#7a0403"/><stop offset=".61" stop-color="#8b0902"/><stop offset=".64" stop-color="#b41b01"/><stop offset=".67" stop-color="#d83706"/><stop offset=".68" stop-color="#e7490c"/><stop offset=".72" stop-color="#f9751d"/><stop offset=".76" stop-color="#fe992c"/><stop offset=".81" stop-color="#fcb136"/><stop offset=".88" stop-color="#f7c13a"/><stop offset="1" stop-color="#f4c73a"/></linearGradient><linearGradient id="g1_26" gradientUnits="userSpaceOnUse" x1="42.45" x2="356.05" y1="0" y2="0"><stop offset="0" stop-color="#f5c53a"/><stop offset=".09" stop-color="#f7c13a"/><stop offset=".18" stop-color="#fcb136"/><stop offset=".24" stop-color="#fe962b"/><stop offset=".27" stop-color="#f9751d"/><stop offset=".3" stop-color="#ec530f"/><stop offset=".32" stop-color="#dd3d08"/><stop offset=".34" stop-color="#b91e02"/><stop offset=".36" stop-color="#9e1001"/><stop offset=".38" stop-color="#850702"/><stop offset=".4" stop-color="#7a0403"/><stop offset=".6" stop-color="#7a0403"/><stop offset=".62" stop-color="#880802"/><stop offset=".66" stop-color="#be2102"/><stop offset=".68" stop-color="#dc3b07"/><stop offset=".69" stop-color="#ea4e0d"/><stop offset=".73" stop-color="#f9751d"/><stop offset=".76" stop-color="#fe932a"/><stop offset=".82" stop-color="#fcb136"/><stop offset=".89" stop-color="#f7c13a"/><stop offset="1" stop-color="#f4c73a"/></linearGradient><linearGradient id="g2_0" gradientUnits="userSpaceOnUse" x1="42.45" x2="200.03" y1="0" y2="0"><stop offset="0" stop-color="#fe9e2f"/><stop offset=".12" stop-color="#fe9e2f"/><stop offset=".32" stop-color="#fea933"/><stop offset=".54" stop-color="#f4c73a"/><stop offset=".59" stop-color="#ebd339"/><stop offset=".65" stop-color="#d7e535"/><stop offset=".68" stop-color="#c6f034"/><stop offset=".71" stop-color="#affa37"/><stop offset=".72" stop-color="#9cfe40"/><stop offset=".74" stop-color="#79fe59"/><stop offset=".76" stop-color="#55fa76"/><stop offset=".77" stop-color="#38f491"/><stop offset=".78" stop-color="#25eca7"/><stop offset=".79" stop-color="#1ae4b6"/><stop offset=".81" stop-color="#1ad2d2"/><stop offset=".83" stop-color="#2fb2f4"/><stop offset=".84" stop-color="#3aa3fc"/><stop offset=".85" stop-color="#448ffe"/><stop offset=".86" stop-color="#4294ff"/><stop offset=".88" stop-color="#2fb2f4"/><stop offset=".89" stop-color="#1ccdd8"/><stop offset=".89" stop-color="#18dbc5"/><stop offset=".9" stop-color="#1ce6b4"/><stop offset=".9" stop-color="#2aefa1"/><stop offset=".91" stop-color="#59fb73"/><stop offset=".93" stop-color="#9cfe40"/><stop offset=".93" stop-color="#a9fb39"/><stop offset=".94" stop-color="#bcf534"/><stop offset=".96" stop-color="#c8ef34"/><stop offset=".99" stop-color="#ecd13a"/><stop offset="1" stop-color="#f2c93a"/><stop offset="1" stop-color="#7a0403"/><stop offset="1" stop-color="#7a0403"/></linearGradient><linearGradient id="g2_1" gradientUnits="userSpaceOnUse" x1="42.45" x2="356.05" y1="0" y2="0"><stop offset="0" stop-color="#fe9e2f"/><stop offset=".07" stop-color="#fe9e2f"/><stop offset=".17" stop-color="#fea933"/><stop offset=".25" stop-color="#f8be39"/><stop offset=".31" stop-color="#e9d539"/><stop offset=".34" stop-color="#d0ea34"/><stop offset=".36" stop-color="#bcf534"/><stop offset=".37" stop-color="#a7fc3a"/><stop offset=".38" stop-color="#80ff53"/><stop offset=".39" stop-color="#55fa76"/><stop offset=".4" stop-color="#3cf58e"/><stop offset=".41" stop-color="#32f298"/><stop offset=".42" stop-color="#25eca7"/><stop offset=".43" stop-color="#25eca7"/><stop offset=".44" stop-color="#2cf09e"/><stop offset=".44" stop-color="#38f491"/><stop offset=".45" stop-color="#55fa76"/><stop offset=".46" stop-color="#75fe5c"/><stop offset=".47" stop-color="#99fe42"/><stop offset=".47" stop-color="#a9fb39"/><stop offset=".49" stop-color="#b7f735"/><stop offset=".49" stop-color="#bcf534"/><stop offset=".51" stop-color="#bcf534"/><stop offset=".52" stop-color="#b1f936"/><stop offset=".53" stop-color="#99fe42"/><stop offset=".54" stop-color="#71fe5f"/><stop offset=".56" stop-color="#38f491"/><stop offset=".57" stop-color="#25eca7"/><stop offset=".58" stop-color="#20eaac"/><stop offset=".58" stop-color="#22ebaa"/><stop offset=".59" stop-color="#2ff19b"/><stop offset=".61" stop-color="#46f884"/><stop offset=".62" stop-color="#80ff53"/><stop offset=".63" stop-color="#99fe42"/><stop offset=".64" stop-color="#a9fb39"/><stop offset=".66" stop-color="#cbed34"/><stop offset=".69" stop-color="#e3db38"/><stop offset=".7" stop-color="#ebd339"/><stop offset=".77" stop-color="#faba39"/><stop offset=".84" stop-color="#fea933"/><stop offset=".93" stop-color="#fe9e2f"/><stop offset="1" stop-color="#fe9e2f"/></linearGradient><linearGradient id="g2_2" gradientUnits="userSpaceOnUse" x1="42.45" x2="356.05" y1="0" y2="0"><stop offset="0" stop-color="#fe9e2f"/><stop offset=".08" stop-color="#fe9e2f"/><stop offset=".14" stop-color="#fea431"/><stop offset=".2" stop-color="#fdae35"/><stop offset=".28" stop-color="#f4c73a"/><stop offset=".31" stop-color="#ebd339"/><stop offset=".34" stop-color="#d9e436"/><stop offset=".37" stop-color="#bcf534"/><stop offset=".39" stop-color="#a9fb39"/><stop offset=".4" stop-color="#a1fd3d"/><stop offset=".42" stop-color="#a9fb39"/><stop offset=".43" stop-color="#bcf534"/><stop offset=".46" stop-color="#dfdf37"/><stop offset=".47" stop-color="#ebd339"/><stop offset=".49" stop-color="#f1cb3a"/><stop offset=".51" stop-color="#f1cb3a"/><stop offset=".53" stop-color="#ebd339"/><stop offset=".55" stop-color="#d7e535"/><stop offset=".57" stop-color="#b7f735"/><stop offset=".58" stop-color="#a4fc3c"/><stop offset=".6" stop-color="#a1fd3d"/><stop offset=".62" stop-color="#b1f936"/><stop offset=".63" stop-color="#bcf534"/><stop offset=".66" stop-color="#d9e436"/><stop offset=".68" stop-color="#e7d739"/><stop offset=".72" stop-color="#f4c73a"/><stop offset=".83" stop-color="#fea933"/><stop offset=".92" stop-color="#fe9e2f"/><stop offset="1" stop-color="#fe9e2f"/></linearGradient><linearGradient id="g2_3" gradientUnits="userSpaceOnUse" x1="42.45" x2="356.05" y1="0" y2="0"><stop offset="0" stop-color="#fe9b2d"/><stop offset=".12" stop-color="#fea130"/><stop offset=".18" stop-color="#fea933"/><stop offset=".24" stop-color="#fbb838"/><stop offset=".3" stop-color="#f1cb3a"/><stop offset=".38" stop-color="#d7e535"/><stop offset=".4" stop-color="#d7e535"/><stop offset=".42" stop-color="#e1dd37"/><stop offset=".44" stop-color="#eecf3a"/><stop offset=".47" stop-color="#fbb838"/><stop offset=".49" stop-color="#fdac34"/><stop offset=".51" stop-color="#fdac34"/><stop offset=".53" stop-color="#fcb336"/><stop offset=".55" stop-color="#f4c73a"/><stop offset=".58" stop-color="#dfdf37"/><stop offset=".6" stop-color="#d7e535"/><stop offset=".62" stop-color="#d7e535"/><stop offset=".71" stop-color="#f4c73a"/><stop offset=".82" stop-color="#fea933"/><stop offset=".92" stop-color="#fe9e2f"/><stop offset="1" stop-color="#fe9e2f"/></linearGradient><linearGradient id="g2_4" gradientUnits="userSpaceOnUse" x1="42.45" x2="356.05" y1="0" y2="0"><stop offset="0" stop-color="#fe9b2d"/><stop offset=".13" stop-color="#fe9e2f"/><stop offset=".24" stop-color="#fdae35"/><stop offset=".31" stop-color="#f7c13a"/><stop offset=".36" stop-color="#f5c53a"/><stop offset=".38" stop-color="#f7c13a"/><stop offset=".41" stop-color="#fcb336"/><stop offset=".44" stop-color="#fe9e2f"/><stop offset=".47" stop-color="#fb7e21"/><stop offset=".49" stop-color="#f76f1a"/><stop offset=".51" stop-color="#f76f1a"/><stop offset=".53" stop-color="#f9781e"/><stop offset=".55" stop-color="#fe9029"/><stop offset=".59" stop-color="#fbb637"/><stop offset=".63" stop-color="#f5c53a"/><stop offset=".69" stop-color="#f7c13a"/><stop offset=".77" stop-color="#fdae35"/><stop offset=".86" stop-color="#fea130"/><stop offset="1" stop-color="#fe9b2d"/></linearGradient><linearGradient id="g2_5" gradientUnits="userSpaceOnUse" x1="42.45" x2="356.05" y1="0" y2="0"><stop offset="0" stop-color="#fe992c"/><stop offset=".15" stop-color="#fe9b2d"/><stop offset=".28" stop-color="#fdac34"/><stop offset=".34" stop-color="#fdac34"/><stop offset=".37" stop-color="#fea431"/><stop offset=".39" stop-color="#fe962b"/><stop offset=".42" stop-color="#fb7e21"/><stop offset=".45" stop-color="#ef5811"/><stop offset=".49" stop-color="#e4450a"/><stop offset=".51" stop-color="#e4450a"/><stop offset=".54" stop-color="#ea4e0d"/><stop offset=".56" stop-color="#f15d13"/><stop offset=".58" stop-color="#fb7e21"/><stop offset=".61" stop-color="#fe992c"/><stop offset=".66" stop-color="#fdac34"/><stop offset=".74" stop-color="#fdac34"/><stop offset=".88" stop-color="#fe9b2d"/><stop offset="1" stop-color="#fe992c"/></linearGradient><linearGradient id="g2_6" gradientUnits="userSpaceOnUse" x1="42.45" x2="356.05" y1="0" y2="0"><stop offset="0" stop-color="#fe932a"/><stop offset=".22" stop-color="#fe9b2d"/><stop offset=".31" stop-color="#fe992c"/><stop offset=".34" stop-color="#fd8d27"/><stop offset=".36" stop-color="#fb8122"/><stop offset=".41" stop-color="#ed5510"/><stop offset=".45" stop-color="#dc3b07"/><stop offset=".49" stop-color="#ce2d04"/><stop offset=".52" stop-color="#ce2d04"/><stop offset=".54" stop-color="#d43305"/><stop offset=".58" stop-color="#e84b0c"/><stop offset=".62" stop-color="#f9751d"/><stop offset=".66" stop-color="#fe9029"/><stop offset=".69" stop-color="#fe992c"/><stop offset=".76" stop-color="#fe9e2f"/><stop offset="1" stop-color="#fe962b"/></linearGradient><linearGradient id="g2_7" gradientUnits="userSpaceOnUse" x1="42.45" x2="356.05" y1="0" y2="0"><stop offset="0" stop-color="#fe9029"/><stop offset=".23" stop-color="#fe9029"/><stop offset=".28" stop-color="#fd8a26"/><stop offset=".33" stop-color="#f9781e"/><stop offset=".37" stop-color="#ef5811"/><stop offset=".39" stop-color="#e5470b"/><stop offset=".45" stop-color="#c52603"/><stop offset=".48" stop-color="#b71d02"/><stop offset=".52" stop-color="#b71d02"/><stop offset=".56" stop-color="#cc2b04"/><stop offset=".61" stop-color="#e4450a"/><stop offset=".63" stop-color="#ef5811"/><stop offset=".68" stop-color="#fb7e21"/><stop offset=".71" stop-color="#fd8a26"/><stop offset=".77" stop-color="#fe932a"/><stop offset="1" stop-color="#fe932a"/></linearGradient><linearGradient id="g2_8" gradientUnits="userSpaceOnUse" x1="42.45" x2="356.05" y1="0" y2="0"><stop offset="0" stop-color="#fd8d27"/><stop offset=".21" stop-color="#fc8725"/><stop offset=".26" stop-color="#fb7e21"/><stop offset=".29" stop-color="#f76f1a"/><stop offset=".36" stop-color="#e4450a"/><stop offset=".42" stop-color="#be2102"/><stop offset=".46" stop-color="#a91601"/><stop offset=".48" stop-color="#a11201"/><stop offset=".52" stop-color="#a11201"/><stop offset=".54" stop-color="#a91601"/><stop offset=".58" stop-color="#c12302"/><stop offset=".61" stop-color="#d83706"/><stop offset=".65" stop-color="#eb500e"/><stop offset=".71" stop-color="#f8721c"/><stop offset=".76" stop-color="#fc8423"/><stop offset=".86" stop-color="#fe9029"/><stop offset="1" stop-color="#fe9029"/></linearGradient><linearGradient id="g2_9" gradientUnits="userSpaceOnUse" x1="42.45" x2="356.05" y1="0" y2="0"><stop offset="0" stop-color="#fc8725"/><stop offset=".11" stop-color="#fc8725"/><stop offset=".18" stop-color="#fb8122"/><stop offset=".25" stop-color="#f8721c"/><stop offset=".3" stop-color="#f05b12"/><stop offset=".35" stop-color="#dc3b07"/><stop offset=".41" stop-color="#af1801"/><stop offset=".45" stop-color="#980e01"/><stop offset=".47" stop-color="#8e0a01"/><stop offset=".51" stop-color="#8b0902"/><stop offset=".55" stop-color="#980e01"/><stop offset=".59" stop-color="#b41b01"/><stop offset=".65" stop-color="#dc3b07"/><stop offset=".7" stop-color="#f05b12"/><stop offset=".76" stop-color="#f9781e"/><stop offset=".81" stop-color="#fc8423"/><stop offset=".89" stop-color="#fd8d27"/><stop offset="1" stop-color="#fe9029"/></linearGradient><linearGradient id="g2_10" gradientUnits="userSpaceOnUse" x1="42.45" x2="356.05" y1="0" y2="0"><stop offset="0" stop-color="#fc8423"/><stop offset=".07" stop-color="#fc8423"/><stop offset=".17" stop-color="#fa7b1f"/><stop offset=".23" stop-color="#f66c19"/><stop offset=".28" stop-color="#ef5811"/><stop offset=".33" stop-color="#da3907"/><stop offset=".37" stop-color="#be2102"/><stop offset=".41" stop-color="#9e1001"/><stop offset=".46" stop-color="#810602"/><stop offset=".52" stop-color="#7e0502"/><stop offset=".56" stop-color="#8b0902"/><stop offset=".62" stop-color="#b41b01"/><stop offset=".65" stop-color="#cc2b04"/><stop offset=".67" stop-color="#dc3b07"/><stop offset=".72" stop-color="#ef5811"/><stop offset=".78" stop-color="#f9751d"/><stop offset=".83" stop-color="#fb8122"/><stop offset=".91" stop-color="#fd8a26"/><stop offset="1" stop-color="#fd8d27"/></linearGradient><linearGradient id="g2_11" gradientUnits="userSpaceOnUse" x1="42.45" x2="356.05" y1="0" y2="0"><stop offset="0" stop-color="#fb8122"/><stop offset=".15" stop-color="#f9781e"/><stop offset=".19" stop-color="#f76f1a"/><stop offset=".26" stop-color="#ef5811"/><stop offset=".32" stop-color="#d83706"/><stop offset=".37" stop-color="#af1801"/><stop offset=".4" stop-color="#950d01"/><stop offset=".44" stop-color="#7a0403"/><stop offset=".56" stop-color="#7a0403"/><stop offset=".59" stop-color="#8e0a01"/><stop offset=".62" stop-color="#a71401"/><stop offset=".66" stop-color="#c82803"/><stop offset=".68" stop-color="#d63506"/><stop offset=".72" stop-color="#eb500e"/><stop offset=".79" stop-color="#f76f1a"/><stop offset=".84" stop-color="#fb7e21"/><stop offset=".91" stop-color="#fc8725"/><stop offset="1" stop-color="#fd8a26"/></linearGradient><linearGradient id="g2_12" gradientUnits="userSpaceOnUse" x1="42.45" x2="356.05" y1="0" y2="0"><stop offset="0" stop-color="#fa7b1f"/><stop offset=".08" stop-color="#fa7b1f"/><stop offset=".14" stop-color="#f9751d"/><stop offset=".18" stop-color="#f66c19"/><stop offset=".24" stop-color="#ef5811"/><stop offset=".26" stop-color="#ea4e0d"/><stop offset=".31" stop-color="#d43305"/><stop offset=".33" stop-color="#c82803"/><stop offset=".36" stop-color="#a71401"/><stop offset=".39" stop-color="#8b0902"/><stop offset=".41" stop-color="#7a0403"/><stop offset=".58" stop-color="#7a0403"/><stop offset=".61" stop-color="#8e0a01"/><stop offset=".63" stop-color="#9e1001"/><stop offset=".65" stop-color="#b71d02"/><stop offset=".69" stop-color="#d63506"/><stop offset=".74" stop-color="#eb500e"/><stop offset=".79" stop-color="#f56918"/><stop offset=".83" stop-color="#f9781e"/><stop offset=".91" stop-color="#fc8423"/><stop offset="1" stop-color="#fc8725"/></linearGradient><linearGradient id="g2_13" gradientUnits="userSpaceOnUse" x1="42.45" x2="356.05" y1="0" y2="0"><stop offset="0" stop-color="#fa7b1f"/><stop offset=".05" stop-color="#fa7b1f"/><stop offset=".14" stop-color="#f8721c"/><stop offset=".2" stop-color="#f36315"/><stop offset=".26" stop-color="#e7490c"/><stop offset=".29" stop-color="#da3907"/><stop offset=".33" stop-color="#c32503"/><stop offset=".36" stop-color="#9e1001"/><stop offset=".4" stop-color="#7a0403"/><stop offset=".59" stop-color="#7a0403"/><stop offset=".62" stop-color="#8e0a01"/><stop offset=".65" stop-color="#af1801"/><stop offset=".7" stop-color="#d83706"/><stop offset=".74" stop-color="#eb500e"/><stop offset=".8" stop-color="#f66c19"/><stop offset=".84" stop-color="#f9781e"/><stop offset=".92" stop-color="#fc8423"/><stop offset="1" stop-color="#fc8725"/></linearGradient><linearGradient id="g2_14" gradientUnits="userSpaceOnUse" x1="42.45" x2="200.03" y1="0" y2="0"><stop offset="0" stop-color="#fe9e2f"/><stop offset=".12" stop-color="#fe9e2f"/><stop offset=".32" stop-color="#fea933"/><stop offset=".54" stop-color="#f4c73a"/><stop offset=".59" stop-color="#ebd339"/><stop offset=".65" stop-color="#d7e535"/><stop offset=".68" stop-color="#c6f034"/><stop offset=".71" stop-color="#affa37"/><stop offset=".73" stop-color="#8bff4b"/><stop offset=".75" stop-color="#6dfe62"/><stop offset=".76" stop-color="#4af880"/><stop offset=".78" stop-color="#25eca7"/><stop offset=".79" stop-color="#1ae4b6"/><stop offset=".81" stop-color="#1ad2d2"/><stop offset=".83" stop-color="#2fb2f4"/><stop offset=".84" stop-color="#3ba0fd"/><stop offset=".85" stop-color="#448ffe"/><stop offset=".86" stop-color="#4294ff"/><stop offset=".87" stop-color="#38a5fb"/><stop offset=".88" stop-color="#2fb2f4"/><stop offset=".89" stop-color="#1ccdd8"/><stop offset=".89" stop-color="#18dbc5"/><stop offset=".9" stop-color="#1ce6b4"/><stop offset=".9" stop-color="#2aefa1"/><stop offset=".91" stop-color="#59fb73"/><stop offset=".93" stop-color="#9cfe40"/><stop offset=".93" stop-color="#a9fb39"/><stop offset=".94" stop-color="#bcf534"/><stop offset=".96" stop-color="#c8ef34"/><stop offset=".99" stop-color="#ecd13a"/><stop offset="1" stop-color="#f2c93a"/><stop offset="1" stop-color="#7a0403"/><stop offset="1" stop-color="#7a0403"/></linearGradient><linearGradient id="g2_15" gradientUnits="userSpaceOnUse" x1="42.45" x2="356.05" y1="0" y2="0"><stop offset="0" stop-color="#fe9e2f"/><stop offset=".07" stop-color="#fe9e2f"/><stop offset=".17" stop-color="#fea933"/><stop offset=".25" stop-color="#f8be39"/><stop offset=".31" stop-color="#e9d539"/><stop offset=".34" stop-color="#d0ea34"/><stop offset=".36" stop-color="#b7f735"/><stop offset=".37" stop-color="#a7fc3a"/><stop offset=".38" stop-color="#80ff53"/><stop offset=".4" stop-color="#46f884"/><stop offset=".41" stop-color="#2cf09e"/><stop offset=".42" stop-color="#25eca7"/><stop offset=".43" stop-color="#25eca7"/><stop offset=".44" stop-color="#2ff19b"/><stop offset=".45" stop-color="#5dfc6f"/><stop offset=".46" stop-color="#88ff4e"/><stop offset=".47" stop-color="#9ffd3f"/><stop offset=".48" stop-color="#b1f936"/><stop offset=".49" stop-color="#bcf534"/><stop offset=".51" stop-color="#bef434"/><stop offset=".52" stop-color="#b1f936"/><stop offset=".53" stop-color="#9ffd3f"/><stop offset=".54" stop-color="#7dff56"/><stop offset=".54" stop-color="#65fd69"/><stop offset=".56" stop-color="#3ff68a"/><stop offset=".57" stop-color="#27eea4"/><stop offset=".57" stop-color="#20eaac"/><stop offset=".58" stop-color="#20eaac"/><stop offset=".59" stop-color="#2ff19b"/><stop offset=".61" stop-color="#46f884"/><stop offset=".62" stop-color="#80ff53"/><stop offset=".63" stop-color="#9ffd3f"/><stop offset=".64" stop-color="#a9fb39"/><stop offset=".66" stop-color="#cbed34"/><stop offset=".69" stop-color="#e3db38"/><stop offset=".7" stop-color="#ebd339"/><stop offset=".77" stop-color="#faba39"/><stop offset=".84" stop-color="#fea933"/><stop offset=".93" stop-color="#fe9e2f"/><stop offset="1" stop-color="#fe9e2f"/></linearGradient><linearGradient id="g2_16" gradientUnits="userSpaceOnUse" x1="42.45" x2="356.05" y1="0" y2="0"><stop offset="0" stop-color="#fe9e2f"/><stop offset=".08" stop-color="#fe9e2f"/><stop offset=".14" stop-color="#fea431"/><stop offset=".2" stop-color="#fdae35"/><stop offset=".28" stop-color="#f4c73a"/><stop offset=".31" stop-color="#ebd339"/><stop offset=".34" stop-color="#d9e436"/><stop offset=".37" stop-color="#bcf534"/><stop offset=".39" stop-color="#acfb38"/><stop offset=".4" stop-color="#a1fd3d"/><stop offset=".41" stop-color="#a1fd3d"/><stop offset=".43" stop-color="#b1f936"/><stop offset=".44" stop-color="#cbed34"/><stop offset=".46" stop-color="#dfdf37"/><stop offset=".47" stop-color="#ebd339"/><stop offset=".49" stop-color="#f1cb3a"/><stop offset=".51" stop-color="#f1cb3a"/><stop offset=".53" stop-color="#ebd339"/><stop offset=".55" stop-color="#d9e436"/><stop offset=".56" stop-color="#c1f334"/><stop offset=".58" stop-color="#a9fb39"/><stop offset=".59" stop-color="#a1fd3d"/><stop offset=".6" stop-color="#a1fd3d"/><stop offset=".63" stop-color="#b9f635"/><stop offset=".66" stop-color="#d7e535"/><stop offset=".68" stop-color="#e7d739"/><stop offset=".72" stop-color="#f4c73a"/><stop offset=".83" stop-color="#fea933"/><stop offset=".92" stop-color="#fe9e2f"/><stop offset="1" stop-color="#fe9e2f"/></linearGradient><linearGradient id="g2_17" gradientUnits="userSpaceOnUse" x1="42.45" x2="356.05" y1="0" y2="0"><stop offset="0" stop-color="#fe9b2d"/><stop offset=".11" stop-color="#fe9e2f"/><stop offset=".19" stop-color="#fea933"/><stop offset=".27" stop-color="#faba39"/><stop offset=".36" stop-color="#ebd339"/><stop offset=".39" stop-color="#ecd13a"/><stop offset=".42" stop-color="#f4c73a"/><stop offset=".45" stop-color="#fea933"/><stop offset=".48" stop-color="#fe9029"/><stop offset=".5" stop-color="#fd8a26"/><stop offset=".52" stop-color="#fe9029"/><stop offset=".55" stop-color="#fea933"/><stop offset=".59" stop-color="#f2c93a"/><stop offset=".62" stop-color="#ebd339"/><stop offset=".67" stop-color="#eecf3a"/><stop offset=".74" stop-color="#fbb838"/><stop offset=".81" stop-color="#fea933"/><stop offset=".9" stop-color="#fe9e2f"/><stop offset="1" stop-color="#fe9b2d"/></linearGradient><linearGradient id="g2_18" gradientUnits="userSpaceOnUse" x1="42.45" x2="356.05" y1="0" y2="0"><stop offset="0" stop-color="#fe992c"/><stop offset=".12" stop-color="#fe9b2d"/><stop offset=".23" stop-color="#fea933"/><stop offset=".29" stop-color="#fbb637"/><stop offset=".35" stop-color="#fbb838"/><stop offset=".38" stop-color="#fcb136"/><stop offset=".4" stop-color="#fea431"/><stop offset=".42" stop-color="#fe9029"/><stop offset=".45" stop-color="#f76f1a"/><stop offset=".47" stop-color="#f15d13"/><stop offset=".49" stop-color="#ed5510"/><stop offset=".51" stop-color="#ed5510"/><stop offset=".54" stop-color="#f46617"/><stop offset=".58" stop-color="#fe9029"/><stop offset=".6" stop-color="#fea732"/><stop offset=".65" stop-color="#fbb838"/><stop offset=".71" stop-color="#fbb637"/><stop offset=".86" stop-color="#fe9e2f"/><stop offset="1" stop-color="#fe9b2d"/></linearGradient><linearGradient id="g2_19" gradientUnits="userSpaceOnUse" x1="42.45" x2="356.05" y1="0" y2="0"><stop offset="0" stop-color="#fe962b"/><stop offset=".19" stop-color="#fe9b2d"/><stop offset=".27" stop-color="#fea431"/><stop offset=".32" stop-color="#fea130"/><stop offset=".35" stop-color="#fe992c"/><stop offset=".38" stop-color="#fd8a26"/><stop offset=".42" stop-color="#f46617"/><stop offset=".45" stop-color="#e5470b"/><stop offset=".49" stop-color="#d83706"/><stop offset=".51" stop-color="#d83706"/><stop offset=".56" stop-color="#e7490c"/><stop offset=".61" stop-color="#fb7e21"/><stop offset=".65" stop-color="#fe992c"/><stop offset=".67" stop-color="#fea130"/><stop offset=".76" stop-color="#fea431"/><stop offset=".84" stop-color="#fe9b2d"/><stop offset="1" stop-color="#fe992c"/></linearGradient><linearGradient id="g2_20" gradientUnits="userSpaceOnUse" x1="42.45" x2="356.05" y1="0" y2="0"><stop offset="0" stop-color="#fe932a"/><stop offset=".24" stop-color="#fe962b"/><stop offset=".29" stop-color="#fe9029"/><stop offset=".34" stop-color="#fb8122"/><stop offset=".38" stop-color="#f15d13"/><stop offset=".41" stop-color="#e5470b"/><stop offset=".46" stop-color="#cc2b04"/><stop offset=".49" stop-color="#c12302"/><stop offset=".52" stop-color="#c12302"/><stop offset=".55" stop-color="#ce2d04"/><stop offset=".57" stop-color="#dc3b07"/><stop offset=".6" stop-color="#eb500e"/><stop offset=".62" stop-color="#f46617"/><stop offset=".67" stop-color="#fc8423"/><stop offset=".71" stop-color="#fe932a"/><stop offset=".77" stop-color="#fe992c"/><stop offset="1" stop-color="#fe962b"/></linearGradient><linearGradient id="g2_21" gradientUnits="userSpaceOnUse" x1="42.45" x2="356.05" y1="0" y2="0"><stop offset="0" stop-color="#fd8d27"/><stop offset=".19" stop-color="#fd8d27"/><stop offset=".26" stop-color="#fc8423"/><stop offset=".31" stop-color="#f9751d"/><stop offset=".37" stop-color="#ea4e0d"/><stop offset=".41" stop-color="#d23105"/><stop offset=".44" stop-color="#be2102"/><stop offset=".48" stop-color="#a91601"/><stop offset=".52" stop-color="#a91601"/><stop offset=".57" stop-color="#c12302"/><stop offset=".6" stop-color="#d83706"/><stop offset=".63" stop-color="#ea4e0d"/><stop offset=".69" stop-color="#f9781e"/><stop offset=".74" stop-color="#fc8725"/><stop offset=".86" stop-color="#fe932a"/><stop offset="1" stop-color="#fe932a"/></linearGradient><linearGradient id="g2_22" gradientUnits="userSpaceOnUse" x1="42.45" x2="356.05" y1="0" y2="0"><stop offset="0" stop-color="#fd8a26"/><stop offset=".11" stop-color="#fd8a26"/><stop offset=".19" stop-color="#fc8423"/><stop offset=".24" stop-color="#fa7b1f"/><stop offset=".29" stop-color="#f46617"/><stop offset=".36" stop-color="#dc3b07"/><stop offset=".4" stop-color="#c52603"/><stop offset=".43" stop-color="#ac1701"/><stop offset=".48" stop-color="#950d01"/><stop offset=".52" stop-color="#950d01"/><stop offset=".54" stop-color="#9e1001"/><stop offset=".59" stop-color="#be2102"/><stop offset=".64" stop-color="#dc3b07"/><stop offset=".69" stop-color="#f15d13"/><stop offset=".75" stop-color="#fa7b1f"/><stop offset=".8" stop-color="#fc8725"/><stop offset=".91" stop-color="#fe9029"/><stop offset="1" stop-color="#fe9029"/></linearGradient><linearGradient id="g2_23" gradientUnits="userSpaceOnUse" x1="42.45" x2="356.05" y1="0" y2="0"><stop offset="0" stop-color="#fc8725"/><stop offset=".12" stop-color="#fc8423"/><stop offset=".19" stop-color="#fa7b1f"/><stop offset=".24" stop-color="#f76f1a"/><stop offset=".29" stop-color="#ef5811"/><stop offset=".34" stop-color="#da3907"/><stop offset=".38" stop-color="#be2102"/><stop offset=".41" stop-color="#a71401"/><stop offset=".45" stop-color="#8e0a01"/><stop offset=".47" stop-color="#850702"/><stop offset=".53" stop-color="#850702"/><stop offset=".55" stop-color="#8e0a01"/><stop offset=".61" stop-color="#b41b01"/><stop offset=".62" stop-color="#c12302"/><stop offset=".66" stop-color="#dc3b07"/><stop offset=".71" stop-color="#f15d13"/><stop offset=".78" stop-color="#f9781e"/><stop offset=".83" stop-color="#fc8423"/><stop offset=".93" stop-color="#fd8d27"/><stop offset="1" stop-color="#fd8d27"/></linearGradient><linearGradient id="g2_24" gradientUnits="userSpaceOnUse" x1="42.45" x2="356.05" y1="0" y2="0"><stop offset="0" stop-color="#fb8122"/><stop offset=".09" stop-color="#fb8122"/><stop offset=".17" stop-color="#f9781e"/><stop offset=".23" stop-color="#f56918"/><stop offset=".26" stop-color="#ef5811"/><stop offset=".32" stop-color="#d83706"/><stop offset=".36" stop-color="#c12302"/><stop offset=".38" stop-color="#a71401"/><stop offset=".44" stop-color="#810602"/><stop offset=".45" stop-color="#7e0502"/><stop offset=".46" stop-color="#7a0403"/><stop offset=".54" stop-color="#7a0403"/><stop offset=".58" stop-color="#8e0a01"/><stop offset=".62" stop-color="#af1801"/><stop offset=".67" stop-color="#d63506"/><stop offset=".73" stop-color="#ef5811"/><stop offset=".78" stop-color="#f76f1a"/><stop offset=".83" stop-color="#fb7e21"/><stop offset=".93" stop-color="#fd8a26"/><stop offset="1" stop-color="#fd8a26"/></linearGradient><linearGradient id="g2_25" gradientUnits="userSpaceOnUse" x1="42.45" x2="356.05" y1="0" y2="0"><stop offset="0" stop-color="#fb7e21"/><stop offset=".06" stop-color="#fb7e21"/><stop offset=".15" stop-color="#f9751d"/><stop offset=".19" stop-color="#f66c19"/><stop offset=".25" stop-color="#ef5811"/><stop offset=".28" stop-color="#e7490c"/><stop offset=".31" stop-color="#d63506"/><stop offset=".33" stop-color="#c82803"/><stop offset=".37" stop-color="#a71401"/><stop offset=".4" stop-color="#8b0902"/><stop offset=".42" stop-color="#7a0403"/><stop offset=".57" stop-color="#7a0403"/><stop offset=".61" stop-color="#8e0a01"/><stop offset=".63" stop-color="#a71401"/><stop offset=".66" stop-color="#c12302"/><stop offset=".69" stop-color="#d63506"/><stop offset=".73" stop-color="#eb500e"/><stop offset=".79" stop-color="#f76f1a"/><stop offset=".84" stop-color="#fa7b1f"/><stop offset=".93" stop-color="#fc8725"/><stop offset="1" stop-color="#fc8725"/></linearGradient><linearGradient id="g2_26" gradientUnits="userSpaceOnUse" x1="42.45" x2="356.05" y1="0" y2="0"><stop offset="0" stop-color="#fa7b1f"/><stop offset=".09" stop-color="#f9781e"/><stop offset=".15" stop-color="#f76f1a"/><stop offset=".23" stop-color="#f05b12"/><stop offset=".26" stop-color="#e7490c"/><stop offset=".31" stop-color="#d23105"/><stop offset=".34" stop-color="#af1801"/><stop offset=".38" stop-color="#8b0902"/><stop offset=".4" stop-color="#7a0403"/><stop offset=".59" stop-color="#7a0403"/><stop offset=".64" stop-color="#9e1001"/><stop offset=".67" stop-color="#c12302"/><stop offset=".69" stop-color="#d43305"/><stop offset=".74" stop-color="#ea4e0d"/><stop offset=".8" stop-color="#f66c19"/><stop offset=".84" stop-color="#f9781e"/><stop offset=".93" stop-color="#fc8423"/><stop offset="1" stop-color="#fc8423"/></linearGradient><linearGradient id="cb" x1="0" x2="0" y1="0" y2="1"><stop offset="0" stop-color="#7a0403"/><stop offset="0.03" stop-color="#8e0a01"/><stop offset="0.05" stop-color="#a11201"/><stop offset="0.07" stop-color="#b41b01"/><stop offset="0.1" stop-color="#c32503"/><stop offset="0.12" stop-color="#d02f05"/><stop offset="0.15" stop-color="#dd3d08"/><stop offset="0.17" stop-color="#e7490c"/><stop offset="0.2" stop-color="#f05b12"/><stop offset="0.23" stop-color="#f66c19"/><stop offset="0.25" stop-color="#fb7e21"/><stop offset="0.28" stop-color="#fe932a"/><stop offset="0.3" stop-color="#fea431"/><stop offset="0.33" stop-color="#fbb637"/><stop offset="0.35" stop-color="#f6c33a"/><stop offset="0.38" stop-color="#ecd13a"/><stop offset="0.4" stop-color="#e1dd37"/><stop offset="0.42" stop-color="#d4e735"/><stop offset="0.45" stop-color="#c3f134"/><stop offset="0.47" stop-color="#b4f836"/><stop offset="0.5" stop-color="#a4fc3c"/><stop offset="0.53" stop-color="#8fff49"/><stop offset="0.55" stop-color="#79fe59"/><stop offset="0.57" stop-color="#5dfc6f"/><stop offset="0.6" stop-color="#46f884"/><stop offset="0.62" stop-color="#32f298"/><stop offset="0.65" stop-color="#20eaac"/><stop offset="0.68" stop-color="#19e2bb"/><stop offset="0.7" stop-color="#19d5cd"/><stop offset="0.72" stop-color="#1fc9dd"/><stop offset="0.75" stop-color="#2ab9ee"/><stop offset="0.78" stop-color="#35abf8"/><stop offset="0.8" stop-color="#3e9bfe"/><stop offset="0.82" stop-color="#458afc"/><stop offset="0.85" stop-color="#477bf2"/><stop offset="0.88" stop-color="#4669e0"/><stop offset="0.9" stop-color="#4559cb"/><stop offset="0.93" stop-color="#4249b1"/><stop offset="0.95" stop-color="#3d358b"/><stop offset="0.97" stop-color="#372466"/><stop offset="1" stop-color="#30123b"/></linearGradient></defs>
<g fill="none" stroke-width="1.95" stroke-linecap="butt" stroke-linejoin="round"><path d="M42.45 92.77 97.33 92.71 116.15 92.63 131.04 92.51 142.8 92.35 152.21 92.12 159.27 91.85 165.54 91.45 169.46 91.07 172.59 90.64 175.73 90 178.08 89.33 180.43 88.4 182 87.62 183.57 86.71 187.49 84.26 189.06 83.35 190.63 82.5 192.19 81.76 194.55 80.86 196.11 80.42 197.68 80.11 198.47 80 200.82 79.84 203.17 79.94 204.74 80.14 206.31 80.47 208.66 81.17 211.01 81.95 213.36 82.88 214.93 83.58 218.07 85.12 219.63 85.78 221.2 86.35 223.55 87.03 225.91 87.56 230.61 88.4 233.75 88.85 236.1 89.08 242.37 89.42 249.43 89.66 260.4 89.91 273.73 90.11 309.01 90.36 356.05 90.47" stroke="url(#g0_0)"/><path d="M42.45 89.71 65.97 89.68 86.35 89.6 102.82 89.47 116.93 89.27 128.69 89 138.1 88.67 145.94 88.26 152.99 87.72 157.7 87.23 161.62 86.69 165.54 85.99 168.67 85.27 171.81 84.39 174.95 83.31 177.3 82.37 185.14 78.96 187.49 78.05 190.63 77.01 192.19 76.57 193.76 76.21 196.11 75.78 198.47 75.54 200.82 75.47 203.17 75.57 204.74 75.73 206.31 75.96 209.44 76.57 212.58 77.35 214.15 77.83 215.71 78.4 221.99 81.15 225.12 82.37 228.26 83.42 230.61 84.1 232.18 84.5 235.31 85.17 238.45 85.67 242.37 86.17 247.07 86.63 254.13 87.13 262.75 87.56 272.16 87.88 283.14 88.13 297.25 88.33 313.71 88.47 333.31 88.56 356.05 88.6" stroke="url(#g0_1)"/><path d="M42.45 86.65 62.83 86.62 80.87 86.52 95.76 86.37 108.31 86.15 119.28 85.86 128.69 85.49 137.31 85.01 144.37 84.46 149.07 83.98 153.78 83.37 158.48 82.6 162.4 81.81 166.32 80.84 170.24 79.68 173.38 78.63 182.79 75.21 185.14 74.44 188.27 73.56 191.41 72.84 194.55 72.31 197.68 72.01 200.03 71.94 203.17 72.05 206.31 72.39 210.23 73.06 213.36 73.78 216.5 74.72 225.12 77.9 229.04 79.24 232.96 80.42 236.1 81.2 240.02 82 243.94 82.66 248.64 83.29 254.13 83.86 261.19 84.42 269.81 84.91 279.22 85.29 290.19 85.59 303.52 85.82 318.42 85.98 336.45 86.08 356.05 86.11" stroke="url(#g0_2)"/><path d="M42.45 83.59 60.48 83.55 76.95 83.45 91.06 83.28 103.6 83.03 113.79 82.73 123.2 82.32 131.83 81.81 138.88 81.23 144.37 80.65 149.86 79.92 155.35 79 160.05 78.03 163.97 77.07 167.89 75.97 171.81 74.76 179.65 72.25 182.79 71.33 185.92 70.51 188.27 69.99 191.41 69.42 194.55 69.01 197.68 68.79 200.03 68.75 203.17 68.86 206.31 69.16 209.44 69.61 213.36 70.38 215.71 70.96 218.07 71.64 228.26 74.92 232.18 76.11 236.88 77.37 240.8 78.25 244.72 79 249.43 79.75 254.13 80.37 259.62 80.95 266.67 81.53 275.3 82.05 284.71 82.45 294.9 82.76 307.44 83.01 321.55 83.19 338.02 83.29 356.05 83.33" stroke="url(#g0_3)"/><path d="M42.45 77.47 58.13 77.43 72.24 77.32 84.79 77.14 95.76 76.89 105.95 76.55 114.58 76.16 122.42 75.68 130.26 75.05 136.53 74.41 142.02 73.72 147.51 72.89 152.99 71.9 156.91 71.09 161.62 70.01 166.32 68.83 174.16 66.78 178.87 65.61 182.79 64.75 185.92 64.16 189.06 63.68 192.98 63.24 196.11 63.03 199.25 62.95 202.39 63.01 206.31 63.28 209.44 63.63 213.36 64.22 216.5 64.83 219.63 65.53 224.34 66.69 232.18 68.75 236.88 69.94 241.59 71.02 245.51 71.83 250.99 72.83 256.48 73.66 261.97 74.35 268.24 74.99 276.08 75.62 283.92 76.1 292.55 76.49 302.74 76.83 313.71 77.07 326.26 77.26 340.37 77.37 356.05 77.41" stroke="url(#g0_4)"/><path d="M42.45 71.35 56.56 71.31 69.11 71.2 80.87 71.01 91.06 70.77 100.47 70.45 109.09 70.05 116.93 69.58 124.77 68.96 131.04 68.35 136.53 67.71 142.02 66.95 147.51 66.08 152.21 65.23 156.91 64.3 175.73 60.27 179.65 59.53 183.57 58.88 187.49 58.35 191.41 57.96 195.33 57.72 199.25 57.64 203.17 57.72 207.09 57.96 211.01 58.34 214.93 58.86 218.85 59.51 222.77 60.25 241.59 64.29 246.29 65.22 250.99 66.06 256.48 66.94 261.97 67.69 267.46 68.33 273.73 68.95 281.57 69.56 289.41 70.04 298.03 70.43 307.44 70.75 317.63 71 329.39 71.18 341.94 71.3 356.05 71.34" stroke="url(#g0_5)"/><path d="M42.45 65.23 54.99 65.19 66.75 65.09 77.73 64.91 87.14 64.69 95.76 64.41 104.39 64.03 112.23 63.58 119.28 63.08 125.55 62.53 131.04 61.97 137.31 61.21 142.8 60.45 147.51 59.73 152.99 58.8 173.38 55.1 178.08 54.35 182 53.8 186.71 53.27 190.63 52.94 195.33 52.71 199.25 52.64 203.17 52.7 207.87 52.94 211.79 53.27 216.5 53.8 220.42 54.35 225.12 55.1 245.51 58.8 250.99 59.72 255.7 60.45 261.19 61.21 267.46 61.96 272.95 62.53 279.22 63.07 286.27 63.58 294.11 64.03 302.74 64.4 311.36 64.69 320.77 64.91 331.75 65.08 343.51 65.19 356.05 65.23" stroke="url(#g0_6)"/><path d="M42.45 59.11 54.21 59.08 65.19 58.98 75.38 58.82 84.79 58.61 93.41 58.34 101.25 58.01 109.09 57.6 116.15 57.14 122.42 56.64 127.91 56.13 133.39 55.56 139.67 54.81 149.86 53.4 171.03 50.15 175.73 49.51 179.65 49.03 185.14 48.48 189.84 48.14 194.55 47.92 199.25 47.85 203.95 47.92 208.66 48.14 213.36 48.48 218.85 49.03 222.77 49.5 227.47 50.15 248.64 53.39 258.83 54.81 265.11 55.56 270.59 56.13 276.08 56.64 282.35 57.13 289.41 57.6 297.25 58.01 305.09 58.34 313.71 58.61 323.12 58.82 333.31 58.98 344.29 59.08 356.05 59.11" stroke="url(#g0_7)"/><path d="M42.45 52.99 63.62 52.88 73.03 52.75 82.43 52.55 91.06 52.31 98.9 52.02 105.95 51.69 113.01 51.29 119.28 50.86 124.77 50.42 131.04 49.86 136.53 49.3 147.51 48.03 168.67 45.32 174.16 44.69 178.87 44.22 184.35 43.76 189.06 43.47 194.55 43.27 199.25 43.21 203.95 43.27 209.44 43.47 214.15 43.76 219.63 44.22 224.34 44.69 229.83 45.32 250.99 48.03 261.97 49.3 267.46 49.86 273.73 50.42 279.22 50.86 285.49 51.29 292.55 51.69 299.6 52.02 307.44 52.31 316.07 52.55 325.47 52.75 334.88 52.88 356.05 52.99" stroke="url(#g0_8)"/><path d="M42.45 46.87 62.05 46.78 80.08 46.52 88.71 46.31 96.55 46.06 103.6 45.78 110.66 45.44 123.2 44.67 134.96 43.73 145.15 42.76 167.11 40.48 177.3 39.58 182.79 39.19 188.27 38.91 193.76 38.73 199.25 38.67 204.74 38.73 210.23 38.91 215.71 39.19 221.2 39.58 231.39 40.48 253.35 42.76 263.54 43.73 275.3 44.67 287.84 45.44 294.9 45.78 301.95 46.06 309.79 46.31 318.42 46.52 336.45 46.78 356.05 46.87" stroke="url(#g0_9)"/><path d="M42.45 40.75 61.27 40.68 78.51 40.47 94.19 40.13 108.31 39.64 120.85 39.03 132.61 38.3 143.59 37.48 166.32 35.64 176.51 34.94 182.79 34.6 188.27 34.39 193.76 34.25 199.25 34.21 204.74 34.25 210.23 34.39 215.71 34.6 221.99 34.94 232.18 35.64 254.91 37.48 265.89 38.3 277.65 39.03 290.19 39.64 304.31 40.13 319.99 40.47 337.23 40.68 356.05 40.75" stroke="url(#g0_10)"/><path d="M42.45 34.63 60.48 34.58 77.73 34.42 92.63 34.18 106.74 33.82 118.5 33.4 131.04 32.84 142.02 32.24 165.54 30.86 176.51 30.32 188.27 29.92 193.76 29.83 199.25 29.8 204.74 29.83 210.23 29.92 221.99 30.32 232.96 30.86 256.48 32.24 267.46 32.84 280 33.4 291.76 33.82 305.87 34.18 320.77 34.42 338.02 34.58 356.05 34.63" stroke="url(#g0_11)"/><path d="M42.45 28.51 60.48 28.48 76.95 28.38 91.84 28.22 105.95 27.99 118.5 27.7 130.26 27.36 164.75 26.11 175.73 25.76 187.49 25.51 199.25 25.42 211.01 25.51 222.77 25.76 233.75 26.11 268.24 27.36 280 27.7 292.55 27.99 306.66 28.22 321.55 28.38 338.02 28.48 356.05 28.51" stroke="url(#g0_12)"/><path d="M42.45 25.45 76.95 25.36 105.95 25.07 130.26 24.62 175.73 23.48 187.49 23.3 199.25 23.24 211.01 23.3 222.77 23.48 268.24 24.62 292.55 25.07 321.55 25.36 356.05 25.45" stroke="url(#g0_13)"/><path d="M42.45 95.83 97.33 95.9 116.15 95.98 131.04 96.1 142.8 96.27 152.21 96.5 159.27 96.77 165.54 97.17 169.46 97.55 172.59 97.99 174.16 98.27 175.73 98.62 178.08 99.29 180.43 100.22 182 101.01 183.57 101.92 187.49 104.39 189.06 105.32 191.41 106.58 192.98 107.28 194.55 107.88 196.9 108.54 198.47 108.81 199.25 108.89 200.82 108.96 202.39 108.89 204.74 108.59 206.31 108.22 208.66 107.51 211.01 106.7 212.58 106.09 214.93 105.05 218.07 103.51 219.63 102.84 221.2 102.27 222.77 101.8 225.91 101.06 229.83 100.35 232.96 99.86 236.1 99.54 242.37 99.2 249.43 98.95 261.19 98.69 273.73 98.5 309.01 98.24 356.05 98.12" stroke="url(#g0_14)"/><path d="M42.45 98.89 65.97 98.92 86.35 99 102.82 99.13 116.93 99.33 128.69 99.61 138.1 99.94 145.94 100.36 152.99 100.9 157.7 101.4 162.4 102.06 166.32 102.81 169.46 103.56 172.59 104.5 174.95 105.33 178.08 106.61 185.14 109.73 187.49 110.65 189.84 111.46 192.19 112.15 193.76 112.53 195.33 112.85 197.68 113.16 200.03 113.28 201.6 113.27 203.17 113.18 205.52 112.9 208.66 112.3 211.79 111.56 214.15 110.85 215.71 110.27 221.99 107.5 225.12 106.26 228.26 105.22 230.61 104.53 232.18 104.13 235.31 103.46 238.45 102.95 242.37 102.45 247.07 101.99 254.13 101.49 262.75 101.06 272.16 100.73 283.92 100.47 298.03 100.27 314.5 100.12 334.1 100.03 356.05 100" stroke="url(#g0_15)"/><path d="M42.45 101.95 62.83 101.98 80.87 102.08 95.76 102.24 109.09 102.47 120.07 102.78 129.47 103.16 138.1 103.66 145.15 104.24 149.86 104.74 154.56 105.37 158.48 106.02 162.4 106.82 166.32 107.8 170.24 108.96 173.38 110.02 182.79 113.47 185.14 114.25 187.49 114.95 190.63 115.72 193.76 116.31 196.9 116.68 198.47 116.77 200.03 116.8 203.17 116.68 206.31 116.34 210.23 115.65 213.36 114.92 216.5 113.96 225.12 110.75 229.04 109.4 232.96 108.22 236.1 107.43 240.02 106.62 243.94 105.97 248.64 105.33 254.13 104.75 261.19 104.19 269.81 103.7 279.22 103.32 290.19 103.02 303.52 102.78 318.42 102.62 336.45 102.52 356.05 102.49" stroke="url(#g0_16)"/><path d="M42.45 108.07 58.91 108.11 73.81 108.21 87.14 108.39 98.9 108.64 109.09 108.96 118.5 109.38 127.12 109.92 134.18 110.5 140.45 111.16 145.94 111.89 151.43 112.77 156.13 113.69 160.05 114.57 164.75 115.77 168.67 116.86 177.3 119.35 180.43 120.21 183.57 120.98 186.71 121.65 189.84 122.19 192.98 122.6 196.11 122.85 199.25 122.95 202.39 122.88 205.52 122.66 209.44 122.17 212.58 121.64 214.93 121.15 218.07 120.39 221.99 119.31 233.75 115.91 238.45 114.71 242.37 113.83 247.07 112.91 252.56 112.02 258.05 111.3 264.32 110.63 271.38 110.05 280 109.52 289.41 109.1 299.6 108.77 311.36 108.52 324.69 108.34 339.59 108.23 356.05 108.2" stroke="url(#g0_17)"/><path d="M42.45 114.19 57.35 114.23 70.67 114.35 82.43 114.53 93.41 114.78 102.82 115.1 111.44 115.5 119.28 115.98 127.12 116.6 133.39 117.23 139.67 118.01 145.15 118.82 150.64 119.77 154.56 120.53 159.27 121.55 173.38 124.9 177.3 125.79 180.43 126.44 184.35 127.15 188.27 127.73 192.19 128.15 196.11 128.39 199.25 128.46 202.39 128.4 206.31 128.17 210.23 127.76 214.15 127.19 217.28 126.63 221.2 125.83 225.12 124.94 239.23 121.58 243.94 120.57 247.86 119.8 253.35 118.85 258.83 118.04 265.11 117.27 271.38 116.64 279.22 116.01 287.06 115.53 295.68 115.13 305.09 114.81 316.07 114.56 327.83 114.38 341.15 114.26 356.05 114.22" stroke="url(#g0_18)"/><path d="M42.45 120.31 54.99 120.34 67.54 120.45 78.51 120.63 88.71 120.87 98.11 121.19 106.74 121.58 114.58 122.05 121.63 122.58 127.91 123.16 133.39 123.76 139.67 124.57 145.15 125.39 149.86 126.18 154.56 127.04 174.16 130.94 178.87 131.77 182.79 132.37 187.49 132.95 191.41 133.3 195.33 133.51 199.25 133.58 203.17 133.51 207.09 133.3 211.01 132.95 215.71 132.38 219.63 131.78 224.34 130.95 243.94 127.05 248.64 126.19 253.35 125.4 258.83 124.58 265.11 123.77 270.59 123.16 276.87 122.59 283.92 122.05 291.76 121.59 300.39 121.19 309.79 120.88 319.99 120.63 330.96 120.46 343.51 120.35 356.05 120.32" stroke="url(#g0_19)"/><path d="M42.45 126.43 54.21 126.46 65.19 126.56 76.16 126.73 85.57 126.95 94.19 127.22 102.82 127.59 110.66 128.03 117.71 128.52 123.99 129.04 130.26 129.67 136.53 130.4 142.02 131.13 152.21 132.68 171.81 135.99 176.51 136.7 180.43 137.22 185.14 137.74 189.84 138.13 194.55 138.37 199.25 138.45 203.95 138.37 208.66 138.13 213.36 137.74 218.07 137.22 221.99 136.7 226.69 135.99 246.29 132.69 256.48 131.13 261.97 130.4 268.24 129.67 274.51 129.05 280.79 128.52 287.84 128.03 295.68 127.59 304.31 127.23 312.93 126.95 322.34 126.73 333.31 126.56 344.29 126.46 356.05 126.43" stroke="url(#g0_20)"/><path d="M42.45 132.55 53.43 132.58 64.4 132.67 73.81 132.81 83.22 133.01 91.84 133.27 99.68 133.58 107.52 133.97 114.58 134.41 120.85 134.87 126.34 135.35 132.61 135.97 138.1 136.58 149.07 137.99 170.24 140.98 174.95 141.57 179.65 142.09 185.14 142.59 189.84 142.9 194.55 143.09 199.25 143.15 203.95 143.09 208.66 142.9 213.36 142.59 218.85 142.09 223.55 141.57 228.26 140.98 249.43 137.99 260.4 136.58 265.89 135.97 272.16 135.35 277.65 134.87 283.92 134.41 290.98 133.97 298.82 133.58 306.66 133.27 315.28 133.01 324.69 132.81 334.1 132.67 345.07 132.58 356.05 132.55" stroke="url(#g0_21)"/><path d="M42.45 138.67 62.83 138.77 80.87 139.06 89.49 139.28 97.33 139.55 104.39 139.86 111.44 140.23 117.71 140.62 123.99 141.07 135.75 142.11 145.94 143.19 167.89 145.75 173.38 146.32 178.08 146.76 183.57 147.18 189.06 147.49 194.55 147.68 199.25 147.73 203.95 147.68 209.44 147.49 214.93 147.18 220.42 146.76 225.12 146.32 230.61 145.75 252.56 143.19 262.75 142.11 274.51 141.07 280.79 140.62 287.06 140.23 294.11 139.86 301.17 139.55 309.01 139.28 317.63 139.06 335.67 138.77 356.05 138.67" stroke="url(#g0_22)"/><path d="M42.45 144.79 62.05 144.87 79.3 145.11 94.98 145.5 109.09 146.05 121.63 146.74 133.39 147.57 144.37 148.5 167.11 150.61 177.3 151.41 182.79 151.75 188.27 152 193.76 152.16 199.25 152.21 204.74 152.16 210.23 152 215.71 151.75 221.2 151.41 231.39 150.61 254.13 148.5 265.11 147.57 276.87 146.74 289.41 146.05 303.52 145.5 319.2 145.11 336.45 144.87 356.05 144.79" stroke="url(#g0_23)"/><path d="M42.45 150.91 61.27 150.97 78.51 151.16 93.41 151.45 107.52 151.88 119.28 152.37 131.83 153.05 142.8 153.75 165.54 155.35 176.51 156.01 182.79 156.3 188.27 156.48 193.76 156.6 199.25 156.64 204.74 156.6 210.23 156.48 215.71 156.3 221.99 156.01 232.96 155.35 255.7 153.75 266.67 153.05 279.22 152.37 290.98 151.88 305.09 151.45 319.99 151.16 337.23 150.97 356.05 150.91" stroke="url(#g0_24)"/><path d="M42.45 157.03 60.48 157.07 77.73 157.2 92.63 157.41 106.74 157.71 119.28 158.08 131.04 158.53 164.75 160.11 175.73 160.57 187.49 160.9 199.25 161.02 211.01 160.9 222.77 160.57 233.75 160.11 267.46 158.53 279.22 158.08 291.76 157.71 305.87 157.41 320.77 157.2 338.02 157.07 356.05 157.03" stroke="url(#g0_25)"/><path d="M42.45 163.15 76.95 163.25 91.84 163.36 105.95 163.53 130.26 163.98 175.73 165.13 187.49 165.31 199.25 165.38 211.01 165.31 222.77 165.13 268.24 163.98 292.55 163.53 306.66 163.36 321.55 163.25 356.05 163.15" stroke="url(#g0_26)"/></g>
<rect x="42.6" y="18.15" width="313.5" height="151.95" fill="none" stroke="#000" stroke-width="2.2"/>
<circle cx="199.25" cy="94.3" r="7.7" fill="#fff" stroke="#000" stroke-width="2.2"/>
<rect x="34.7" y="10.2" width="329.1" height="167.8" fill="none" stroke="#000" stroke-width="1.5"/>
<path d="M34.7 170.8h4M363.8 170.8h-4M34.7 132.55h4M363.8 132.55h-4M34.7 94.3h4M363.8 94.3h-4M34.7 56.05h4M363.8 56.05h-4M34.7 17.8h4M363.8 17.8h-4M42.45 10.2v4M42.45 178v-4M81.65 10.2v4M81.65 178v-4M120.85 10.2v4M120.85 178v-4M160.05 10.2v4M160.05 178v-4M199.25 10.2v4M199.25 178v-4M238.45 10.2v4M238.45 178v-4M277.65 10.2v4M277.65 178v-4M316.85 10.2v4M316.85 178v-4M356.05 10.2v4M356.05 178v-4" stroke="#000" stroke-width="1.3" fill="none"/>
<text class="t" x="30.4" y="174.8" text-anchor="end"><tspan font-size="15.5" dy="0.8" letter-spacing="0.6">−</tspan><tspan dy="-0.8">10</tspan></text>
<text class="t" x="30.4" y="136.55" text-anchor="end"><tspan font-size="15.5" dy="0.8" letter-spacing="0.6">−</tspan><tspan dy="-0.8">5</tspan></text>
<text class="t" x="30.4" y="98.3" text-anchor="end">0</text>
<text class="t" x="30.4" y="60.05" text-anchor="end">5</text>
<text class="t" x="30.4" y="21.8" text-anchor="end">10</text>
<text class="b" font-size="14" x="7.5" y="97.5">y</text>
<text class="b" font-size="21.6" x="51.3" y="44.4">(a)</text>
<g fill="none" stroke-width="1.95" stroke-linecap="butt" stroke-linejoin="round"><path d="M42.45 260.77 97.33 260.71 116.15 260.63 131.04 260.51 142.8 260.35 152.21 260.12 159.27 259.85 165.54 259.45 169.46 259.07 172.59 258.64 175.73 258 178.08 257.33 180.43 256.4 182 255.62 183.57 254.71 187.49 252.26 189.06 251.35 190.63 250.52 192.19 249.78 194.55 248.91 196.11 248.5 197.68 248.2 198.47 248.1 200.82 247.98 203.17 248.1 204.74 248.34 206.31 248.69 208.66 249.44 211.01 250.3 212.58 250.95 218.85 253.96 220.42 254.57 222.77 255.3 225.91 256.02 229.83 256.71 232.96 257.16 236.1 257.47 242.37 257.8 250.21 258.07 261.19 258.3 273.73 258.48 309.01 258.72 356.05 258.82" stroke="url(#g1_0)"/><path d="M42.45 257.71 65.97 257.68 86.35 257.6 102.82 257.47 116.93 257.27 128.69 257 138.1 256.67 145.94 256.26 152.99 255.72 157.7 255.23 161.62 254.69 165.54 253.99 168.67 253.27 171.81 252.39 174.95 251.31 177.3 250.37 185.14 246.96 187.49 246.05 189.84 245.26 192.19 244.59 193.76 244.23 195.33 243.94 197.68 243.64 200.03 243.53 202.39 243.6 203.95 243.73 205.52 243.93 208.66 244.54 211.79 245.31 213.36 245.78 215.71 246.64 221.2 249.05 223.55 250.01 225.12 250.6 228.26 251.63 230.61 252.3 232.18 252.7 235.31 253.36 238.45 253.86 242.37 254.35 247.07 254.81 254.13 255.31 261.97 255.71 271.38 256.03 283.14 256.3 297.25 256.5 313.71 256.64 333.31 256.73 356.05 256.77" stroke="url(#g1_1)"/><path d="M42.45 254.65 62.83 254.62 80.87 254.52 95.76 254.37 108.31 254.15 119.28 253.86 128.69 253.49 137.31 253.01 144.37 252.46 149.07 251.98 153.78 251.37 158.48 250.6 162.4 249.81 166.32 248.84 170.24 247.68 173.38 246.63 182.79 243.21 185.14 242.44 188.27 241.56 191.41 240.84 194.55 240.33 197.68 240.03 200.03 239.97 203.17 240.09 206.31 240.44 210.23 241.14 213.36 241.88 216.5 242.83 225.12 246.01 229.04 247.35 232.96 248.51 236.1 249.29 240.02 250.09 243.94 250.75 248.64 251.38 254.13 251.95 261.19 252.51 269.81 253 279.22 253.37 290.19 253.67 303.52 253.9 318.42 254.06 336.45 254.16 356.05 254.19" stroke="url(#g1_2)"/><path d="M42.45 251.59 60.48 251.55 76.95 251.45 91.06 251.28 103.6 251.03 113.79 250.73 123.2 250.32 131.83 249.81 138.88 249.23 144.37 248.65 149.07 248.04 153.78 247.29 157.7 246.54 161.62 245.66 166.32 244.42 171.03 243.01 180.43 240.01 182.79 239.33 185.92 238.51 189.06 237.83 192.98 237.2 196.11 236.89 199.25 236.77 202.39 236.84 205.52 237.09 208.66 237.52 211.79 238.09 214.15 238.61 216.5 239.24 219.63 240.18 227.47 242.72 231.39 243.93 234.53 244.81 238.45 245.78 243.15 246.76 248.64 247.68 254.13 248.41 259.62 248.99 266.67 249.57 275.3 250.09 284.71 250.49 294.9 250.8 307.44 251.05 321.55 251.22 338.02 251.33 356.05 251.37" stroke="url(#g1_3)"/><path d="M42.45 245.47 58.13 245.43 72.24 245.32 84.79 245.14 95.76 244.89 105.95 244.55 114.58 244.16 122.42 243.68 130.26 243.05 136.53 242.41 142.02 241.72 147.51 240.89 152.99 239.9 156.91 239.09 161.62 238.01 166.32 236.83 174.16 234.78 178.87 233.61 182.79 232.75 185.92 232.16 189.06 231.68 192.98 231.24 196.11 231.03 199.25 230.95 202.39 231.02 206.31 231.28 209.44 231.63 213.36 232.24 216.5 232.84 219.63 233.54 224.34 234.71 232.18 236.76 236.88 237.95 241.59 239.03 245.51 239.84 250.99 240.84 256.48 241.67 261.97 242.36 268.24 243 276.08 243.63 283.92 244.11 292.55 244.5 302.74 244.84 313.71 245.08 326.26 245.27 340.37 245.38 356.05 245.42" stroke="url(#g1_4)"/><path d="M42.45 239.35 56.56 239.31 69.11 239.2 80.87 239.01 91.06 238.77 100.47 238.45 109.09 238.05 116.93 237.58 124.77 236.96 131.04 236.35 136.53 235.71 142.02 234.95 147.51 234.08 152.21 233.23 156.91 232.3 175.73 228.27 179.65 227.53 183.57 226.88 187.49 226.35 191.41 225.96 195.33 225.72 199.25 225.64 203.17 225.72 207.09 225.96 211.01 226.34 214.93 226.86 218.85 227.51 222.77 228.25 241.59 232.29 246.29 233.22 250.99 234.06 256.48 234.94 261.97 235.69 267.46 236.34 273.73 236.95 281.57 237.56 289.41 238.04 298.03 238.44 307.44 238.76 317.63 239 329.39 239.19 341.94 239.3 356.05 239.34" stroke="url(#g1_5)"/><path d="M42.45 233.23 54.99 233.19 66.75 233.09 77.73 232.91 87.14 232.69 95.76 232.41 104.39 232.03 112.23 231.58 119.28 231.08 125.55 230.53 131.04 229.97 137.31 229.21 142.8 228.45 147.51 227.73 152.99 226.8 173.38 223.1 178.08 222.35 182 221.8 186.71 221.27 190.63 220.94 195.33 220.71 199.25 220.64 203.17 220.7 207.87 220.94 211.79 221.27 216.5 221.8 220.42 222.35 225.12 223.1 245.51 226.8 250.99 227.72 255.7 228.45 261.19 229.21 267.46 229.96 272.95 230.53 279.22 231.07 286.27 231.58 294.11 232.03 302.74 232.4 311.36 232.69 320.77 232.91 331.75 233.09 343.51 233.19 356.05 233.23" stroke="url(#g1_6)"/><path d="M42.45 227.11 54.21 227.08 65.19 226.98 75.38 226.82 84.79 226.61 93.41 226.34 101.25 226.01 109.09 225.6 116.15 225.14 122.42 224.64 127.91 224.13 133.39 223.56 139.67 222.81 149.86 221.4 171.03 218.15 175.73 217.51 179.65 217.03 185.14 216.48 189.84 216.14 194.55 215.92 199.25 215.85 203.95 215.92 208.66 216.14 213.36 216.48 218.85 217.03 222.77 217.5 227.47 218.15 248.64 221.39 258.83 222.81 265.11 223.56 270.59 224.13 276.08 224.64 282.35 225.14 289.41 225.6 297.25 226.01 305.09 226.34 313.71 226.61 323.12 226.82 333.31 226.98 344.29 227.08 356.05 227.11" stroke="url(#g1_7)"/><path d="M42.45 220.99 63.62 220.88 73.03 220.75 82.43 220.55 91.06 220.31 98.9 220.02 105.95 219.69 113.01 219.29 119.28 218.86 124.77 218.42 131.04 217.86 136.53 217.3 147.51 216.03 168.67 213.32 174.16 212.69 178.87 212.22 184.35 211.76 189.06 211.47 194.55 211.27 199.25 211.21 203.95 211.27 209.44 211.47 214.15 211.76 219.63 212.22 224.34 212.69 229.83 213.32 250.99 216.03 261.97 217.3 267.46 217.86 273.73 218.42 279.22 218.86 285.49 219.29 292.55 219.69 299.6 220.02 307.44 220.31 316.07 220.55 325.47 220.75 334.88 220.88 356.05 220.99" stroke="url(#g1_8)"/><path d="M42.45 214.87 62.05 214.78 80.08 214.52 88.71 214.31 96.55 214.06 103.6 213.78 110.66 213.44 123.2 212.67 134.96 211.73 145.15 210.76 167.11 208.48 177.3 207.58 182.79 207.19 188.27 206.91 193.76 206.73 199.25 206.67 204.74 206.73 210.23 206.91 215.71 207.19 221.2 207.58 231.39 208.48 253.35 210.76 263.54 211.73 275.3 212.67 287.84 213.44 294.9 213.78 301.95 214.06 309.79 214.31 318.42 214.52 336.45 214.78 356.05 214.87" stroke="url(#g1_9)"/><path d="M42.45 208.75 61.27 208.68 78.51 208.47 94.19 208.13 108.31 207.64 120.85 207.03 132.61 206.3 143.59 205.48 166.32 203.64 176.51 202.94 182.79 202.6 188.27 202.39 193.76 202.25 199.25 202.21 204.74 202.25 210.23 202.39 215.71 202.6 221.99 202.94 232.18 203.64 254.91 205.48 265.89 206.3 277.65 207.03 290.19 207.64 304.31 208.13 319.99 208.47 337.23 208.68 356.05 208.75" stroke="url(#g1_10)"/><path d="M42.45 202.63 60.48 202.58 77.73 202.42 92.63 202.18 106.74 201.82 118.5 201.4 131.04 200.84 142.02 200.24 165.54 198.86 176.51 198.32 188.27 197.92 193.76 197.83 199.25 197.8 204.74 197.83 210.23 197.92 221.99 198.32 232.96 198.86 256.48 200.24 267.46 200.84 280 201.4 291.76 201.82 305.87 202.18 320.77 202.42 338.02 202.58 356.05 202.63" stroke="url(#g1_11)"/><path d="M42.45 196.51 60.48 196.48 76.95 196.38 91.84 196.22 105.95 195.99 118.5 195.7 130.26 195.36 164.75 194.11 175.73 193.76 187.49 193.51 199.25 193.42 211.01 193.51 222.77 193.76 233.75 194.11 268.24 195.36 280 195.7 292.55 195.99 306.66 196.22 321.55 196.38 338.02 196.48 356.05 196.51" stroke="url(#g1_12)"/><path d="M42.45 193.45 76.95 193.36 105.95 193.07 130.26 192.62 175.73 191.48 187.49 191.3 199.25 191.24 211.01 191.3 222.77 191.48 268.24 192.62 292.55 193.07 321.55 193.36 356.05 193.45" stroke="url(#g1_13)"/><path d="M42.45 263.83 97.33 263.9 116.15 263.98 131.04 264.1 142.8 264.27 152.21 264.5 159.27 264.77 165.54 265.17 169.46 265.55 172.59 265.99 174.16 266.27 175.73 266.62 178.08 267.29 180.43 268.22 182 269.01 183.57 269.92 187.49 272.39 189.06 273.31 191.41 274.56 192.98 275.25 194.55 275.82 196.9 276.45 198.47 276.71 199.25 276.78 200.82 276.83 202.39 276.74 204.74 276.4 206.31 276.01 208.66 275.24 211.01 274.35 212.58 273.69 218.85 270.66 220.42 270.05 222.77 269.32 225.91 268.6 229.83 267.91 232.96 267.46 236.1 267.15 242.37 266.81 250.21 266.55 261.19 266.31 273.73 266.13 309.01 265.89 356.05 265.78" stroke="url(#g1_14)"/><path d="M42.45 266.89 65.97 266.92 86.35 267 102.82 267.13 116.93 267.33 128.69 267.61 138.1 267.94 145.94 268.36 152.99 268.9 157.7 269.4 162.4 270.06 166.32 270.81 169.46 271.56 172.59 272.5 174.95 273.33 178.08 274.61 185.14 277.73 187.49 278.65 189.84 279.45 192.19 280.14 193.76 280.51 195.33 280.81 197.68 281.11 200.03 281.22 201.6 281.2 203.17 281.1 205.52 280.8 207.09 280.52 208.66 280.17 211.79 279.38 214.15 278.63 215.71 278.03 221.2 275.6 223.55 274.63 225.12 274.04 228.26 273 230.61 272.33 232.18 271.93 235.31 271.27 238.45 270.77 242.37 270.27 247.07 269.81 254.13 269.3 262.75 268.88 272.16 268.56 283.92 268.29 298.03 268.09 314.5 267.95 334.1 267.87 356.05 267.83" stroke="url(#g1_15)"/><path d="M42.45 269.95 62.83 269.98 80.87 270.08 95.76 270.24 109.09 270.47 120.07 270.78 129.47 271.16 138.1 271.66 145.15 272.24 149.86 272.74 154.56 273.37 158.48 274.02 162.4 274.82 166.32 275.8 170.24 276.96 173.38 278.02 182.79 281.47 185.14 282.25 187.49 282.95 190.63 283.72 193.76 284.3 195.33 284.51 196.9 284.66 198.47 284.75 200.03 284.77 202.39 284.7 205.52 284.4 207.09 284.17 209.44 283.73 212.58 283.02 214.15 282.6 216.5 281.85 225.12 278.64 229.04 277.3 232.96 276.12 236.1 275.34 240.02 274.53 243.94 273.88 248.64 273.24 254.13 272.66 261.19 272.1 269.81 271.61 279.22 271.24 290.19 270.94 303.52 270.7 318.42 270.54 336.45 270.44 356.05 270.41" stroke="url(#g1_16)"/><path d="M42.45 276.07 58.91 276.11 73.81 276.21 87.14 276.39 98.9 276.64 109.09 276.96 118.5 277.38 127.12 277.92 134.18 278.5 140.45 279.16 145.94 279.89 151.43 280.77 156.13 281.69 160.05 282.57 164.75 283.77 168.67 284.86 177.3 287.35 180.43 288.21 183.57 288.98 186.71 289.65 189.84 290.19 192.98 290.59 196.11 290.85 199.25 290.94 202.39 290.87 205.52 290.65 209.44 290.15 212.58 289.61 215.71 288.94 219.63 287.94 230.61 284.77 235.31 283.47 238.45 282.69 242.37 281.81 247.07 280.89 252.56 280 258.05 279.28 264.32 278.61 271.38 278.03 280 277.5 289.41 277.08 299.6 276.75 311.36 276.5 324.69 276.32 339.59 276.21 356.05 276.18" stroke="url(#g1_17)"/><path d="M42.45 282.19 57.35 282.23 70.67 282.35 82.43 282.53 93.41 282.78 102.82 283.1 111.44 283.5 119.28 283.98 127.12 284.6 133.39 285.23 139.67 286.01 145.15 286.82 150.64 287.77 154.56 288.53 159.27 289.55 173.38 292.9 177.3 293.79 180.43 294.44 184.35 295.15 188.27 295.73 192.19 296.15 196.11 296.39 199.25 296.45 202.39 296.4 206.31 296.16 210.23 295.75 214.15 295.19 217.28 294.63 221.2 293.82 225.12 292.93 239.23 289.57 243.94 288.56 247.86 287.79 253.35 286.84 258.83 286.03 265.11 285.26 271.38 284.63 279.22 284.01 287.06 283.53 295.68 283.13 305.09 282.81 316.07 282.55 327.83 282.37 341.15 282.26 356.05 282.21" stroke="url(#g1_18)"/><path d="M42.45 288.31 54.99 288.34 67.54 288.45 78.51 288.63 88.71 288.87 98.11 289.19 106.74 289.58 114.58 290.05 121.63 290.58 127.91 291.16 133.39 291.76 139.67 292.57 145.15 293.39 149.86 294.18 154.56 295.04 174.16 298.94 178.87 299.77 182.79 300.37 187.49 300.95 191.41 301.3 195.33 301.51 199.25 301.58 203.17 301.51 207.09 301.3 211.01 300.95 215.71 300.38 219.63 299.78 224.34 298.95 243.94 295.05 248.64 294.19 253.35 293.4 258.83 292.58 265.11 291.77 270.59 291.16 276.87 290.58 283.92 290.05 291.76 289.58 300.39 289.19 309.79 288.87 319.99 288.63 330.96 288.46 343.51 288.35 356.05 288.32" stroke="url(#g1_19)"/><path d="M42.45 294.43 54.21 294.46 65.19 294.56 76.16 294.73 85.57 294.95 94.19 295.22 102.82 295.59 110.66 296.03 117.71 296.52 123.99 297.04 130.26 297.67 136.53 298.4 142.02 299.13 152.21 300.68 171.81 303.99 176.51 304.7 180.43 305.22 185.14 305.74 189.84 306.13 194.55 306.37 199.25 306.45 203.95 306.37 208.66 306.13 213.36 305.74 218.07 305.22 221.99 304.7 226.69 303.99 246.29 300.68 256.48 299.13 261.97 298.4 268.24 297.67 274.51 297.05 280.79 296.52 287.84 296.03 295.68 295.59 304.31 295.23 312.93 294.95 322.34 294.73 333.31 294.56 344.29 294.46 356.05 294.43" stroke="url(#g1_20)"/><path d="M42.45 300.55 53.43 300.58 64.4 300.67 73.81 300.81 83.22 301.01 91.84 301.27 99.68 301.58 107.52 301.97 114.58 302.41 120.85 302.87 126.34 303.35 132.61 303.97 138.1 304.58 149.07 305.99 170.24 308.98 174.95 309.57 179.65 310.09 185.14 310.59 189.84 310.9 194.55 311.09 199.25 311.15 203.95 311.09 208.66 310.9 213.36 310.59 218.85 310.09 223.55 309.57 228.26 308.98 249.43 305.99 260.4 304.58 265.89 303.97 272.16 303.35 277.65 302.87 283.92 302.41 290.98 301.97 298.82 301.58 306.66 301.27 315.28 301.01 324.69 300.81 334.1 300.67 345.07 300.58 356.05 300.55" stroke="url(#g1_21)"/><path d="M42.45 306.67 62.83 306.77 80.87 307.06 89.49 307.28 97.33 307.55 104.39 307.86 111.44 308.23 117.71 308.62 123.99 309.07 135.75 310.11 145.94 311.19 167.89 313.75 173.38 314.32 178.08 314.76 183.57 315.18 189.06 315.49 194.55 315.68 199.25 315.73 203.95 315.68 209.44 315.49 214.93 315.18 220.42 314.76 225.12 314.32 230.61 313.75 252.56 311.19 262.75 310.11 274.51 309.07 280.79 308.62 287.06 308.23 294.11 307.86 301.17 307.55 309.01 307.28 317.63 307.06 335.67 306.77 356.05 306.67" stroke="url(#g1_22)"/><path d="M42.45 312.79 62.05 312.87 79.3 313.11 94.98 313.5 109.09 314.05 121.63 314.74 133.39 315.57 144.37 316.5 167.11 318.61 177.3 319.41 182.79 319.75 188.27 320 193.76 320.16 199.25 320.21 204.74 320.16 210.23 320 215.71 319.75 221.2 319.41 231.39 318.61 254.13 316.5 265.11 315.57 276.87 314.74 289.41 314.05 303.52 313.5 319.2 313.11 336.45 312.87 356.05 312.79" stroke="url(#g1_23)"/><path d="M42.45 318.91 61.27 318.97 78.51 319.16 93.41 319.45 107.52 319.88 119.28 320.37 131.83 321.05 142.8 321.75 165.54 323.35 176.51 324.01 182.79 324.3 188.27 324.48 193.76 324.6 199.25 324.64 204.74 324.6 210.23 324.48 215.71 324.3 221.99 324.01 232.96 323.35 255.7 321.75 266.67 321.05 279.22 320.37 290.98 319.88 305.09 319.45 319.99 319.16 337.23 318.97 356.05 318.91" stroke="url(#g1_24)"/><path d="M42.45 325.03 60.48 325.07 77.73 325.2 92.63 325.41 106.74 325.71 119.28 326.08 131.04 326.53 164.75 328.11 175.73 328.57 187.49 328.9 199.25 329.02 211.01 328.9 222.77 328.57 233.75 328.11 267.46 326.53 279.22 326.08 291.76 325.71 305.87 325.41 320.77 325.2 338.02 325.07 356.05 325.03" stroke="url(#g1_25)"/><path d="M42.45 331.15 76.95 331.25 91.84 331.36 105.95 331.53 130.26 331.98 175.73 333.13 187.49 333.31 199.25 333.38 211.01 333.31 222.77 333.13 268.24 331.98 292.55 331.53 306.66 331.36 321.55 331.25 356.05 331.15" stroke="url(#g1_26)"/></g>
<rect x="42.6" y="186.15" width="313.5" height="151.95" fill="none" stroke="#000" stroke-width="2.2"/>
<circle cx="199.25" cy="262.3" r="7.7" fill="#fff" stroke="#000" stroke-width="2.2"/>
<rect x="34.7" y="178.2" width="329.1" height="167.8" fill="none" stroke="#000" stroke-width="1.5"/>
<path d="M34.7 338.8h4M363.8 338.8h-4M34.7 300.55h4M363.8 300.55h-4M34.7 262.3h4M363.8 262.3h-4M34.7 224.05h4M363.8 224.05h-4M34.7 185.8h4M363.8 185.8h-4M42.45 178.2v4M42.45 346v-4M81.65 178.2v4M81.65 346v-4M120.85 178.2v4M120.85 346v-4M160.05 178.2v4M160.05 346v-4M199.25 178.2v4M199.25 346v-4M238.45 178.2v4M238.45 346v-4M277.65 178.2v4M277.65 346v-4M316.85 178.2v4M316.85 346v-4M356.05 178.2v4M356.05 346v-4" stroke="#000" stroke-width="1.3" fill="none"/>
<text class="t" x="30.4" y="342.8" text-anchor="end"><tspan font-size="15.5" dy="0.8" letter-spacing="0.6">−</tspan><tspan dy="-0.8">10</tspan></text>
<text class="t" x="30.4" y="304.55" text-anchor="end"><tspan font-size="15.5" dy="0.8" letter-spacing="0.6">−</tspan><tspan dy="-0.8">5</tspan></text>
<text class="t" x="30.4" y="266.3" text-anchor="end">0</text>
<text class="t" x="30.4" y="228.05" text-anchor="end">5</text>
<text class="t" x="30.4" y="189.8" text-anchor="end">10</text>
<text class="b" font-size="14" x="7.5" y="265.5">y</text>
<text class="b" font-size="21.6" x="50.9" y="212.9">(b)</text>
<g fill="none" stroke-width="1.95" stroke-linecap="butt" stroke-linejoin="round"><path d="M42.45 428.77 90.27 428.73 123.99 428.59 150.64 428.33 158.48 428.18 163.97 427.98 168.67 427.68 172.59 427.26 175.73 426.71 177.3 426.33 178.87 425.84 180.43 425.24 182.79 424.07 188.27 420.81 189.84 419.99 191.41 419.3 192.98 418.06 194.55 417.45 196.11 417.3 197.68 417.68 198.86 418.67 199.72 419.9 200.03 421.5" stroke="url(#g2_0)"/><path d="M42.45 425.71 85.57 425.61 102.03 425.48 115.36 425.3 127.91 425.04 138.1 424.72 146.72 424.32 153.78 423.85 158.48 423.4 162.4 422.91 166.32 422.26 169.46 421.58 172.59 420.73 175.73 419.67 178.87 418.45 185.14 415.84 187.49 414.98 189.06 414.47 190.63 414.03 192.19 413.66 194.55 413.24 196.9 412.99 199.25 412.9 201.6 412.99 203.95 413.24 206.31 413.66 207.87 414.03 209.44 414.48 211.01 415 213.36 415.89 221.2 419.28 223.55 420.21 225.12 420.78 227.47 421.54 230.61 422.4 234.53 423.24 238.45 423.9 242.37 424.41 247.07 424.89 253.35 425.32 261.19 425.67 271.38 425.98 283.92 426.24 297.25 426.41 313.71 426.53 356.05 426.63" stroke="url(#g2_1)"/><path d="M42.45 422.65 62.05 422.62 80.08 422.53 94.98 422.38 108.31 422.15 119.28 421.86 129.47 421.47 138.1 421 145.15 420.48 150.64 419.93 155.35 419.34 159.27 418.73 163.19 417.97 167.11 417.05 171.03 415.94 174.16 414.93 182.79 411.99 185.14 411.27 187.49 410.63 190.63 409.93 193.76 409.44 196.9 409.16 199.25 409.1 201.6 409.16 204.74 409.44 207.87 409.93 211.01 410.63 213.36 411.27 215.71 411.99 224.34 414.93 227.47 415.94 231.39 417.05 235.31 417.97 239.23 418.73 243.15 419.34 247.86 419.93 253.35 420.48 260.4 421 269.03 421.47 279.22 421.86 290.19 422.15 303.52 422.38 318.42 422.53 336.45 422.62 356.05 422.65" stroke="url(#g2_2)"/><path d="M42.45 419.59 60.48 419.55 76.95 419.45 91.06 419.28 102.82 419.05 113.79 418.73 123.2 418.33 131.83 417.83 138.88 417.28 144.37 416.73 149.07 416.16 153.78 415.46 157.7 414.77 161.62 413.95 166.32 412.8 171.03 411.49 180.43 408.7 182.79 408.06 185.92 407.3 189.06 406.67 192.98 406.1 196.11 405.84 199.25 405.75 202.39 405.84 205.52 406.1 209.44 406.67 212.58 407.3 215.71 408.06 218.07 408.7 227.47 411.49 232.18 412.8 236.88 413.95 240.8 414.77 244.72 415.46 249.43 416.16 254.13 416.73 259.62 417.28 266.67 417.83 275.3 418.33 284.71 418.73 295.68 419.05 307.44 419.28 321.55 419.45 338.02 419.55 356.05 419.59" stroke="url(#g2_3)"/><path d="M42.45 413.47 57.35 413.43 71.46 413.33 84 413.15 94.98 412.91 105.17 412.58 113.79 412.2 121.63 411.74 129.47 411.14 135.75 410.53 141.23 409.88 146.72 409.11 152.21 408.19 156.91 407.28 161.62 406.26 178.08 402.35 182 401.54 185.14 400.98 189.06 400.41 192.19 400.08 196.11 399.83 199.25 399.77 202.39 399.83 206.31 400.08 209.44 400.41 213.36 400.98 216.5 401.54 220.42 402.35 236.88 406.26 241.59 407.28 246.29 408.19 251.78 409.11 257.27 409.88 262.75 410.53 269.03 411.14 276.87 411.74 284.71 412.2 293.33 412.58 303.52 412.91 314.5 413.15 327.04 413.33 341.15 413.43 356.05 413.47" stroke="url(#g2_4)"/><path d="M42.45 407.35 55.78 407.31 68.32 407.21 80.08 407.03 90.27 406.79 99.68 406.48 108.31 406.09 116.15 405.63 123.2 405.1 129.47 404.53 134.96 403.93 141.23 403.11 146.72 402.29 151.43 401.49 156.91 400.47 174.95 396.86 178.87 396.17 182.79 395.56 187.49 394.98 191.41 394.63 195.33 394.41 199.25 394.34 203.17 394.41 207.09 394.63 211.01 394.98 215.71 395.56 219.63 396.17 223.55 396.86 241.59 400.47 247.07 401.49 251.78 402.29 257.27 403.11 263.54 403.93 269.03 404.53 275.3 405.1 282.35 405.63 290.19 406.09 298.82 406.48 308.23 406.79 318.42 407.03 330.18 407.21 342.72 407.31 356.05 407.35" stroke="url(#g2_5)"/><path d="M42.45 401.23 54.21 401.2 65.19 401.11 76.16 400.94 85.57 400.73 94.19 400.47 102.82 400.11 110.66 399.68 117.71 399.2 123.99 398.68 129.47 398.15 134.96 397.53 141.23 396.72 146.72 395.92 152.21 395.04 171.81 391.7 176.51 390.99 180.43 390.47 185.14 389.95 189.84 389.57 194.55 389.33 199.25 389.25 203.95 389.33 208.66 389.57 213.36 389.95 218.07 390.47 221.99 390.99 226.69 391.7 246.29 395.04 251.78 395.92 257.27 396.72 263.54 397.53 269.03 398.15 274.51 398.68 280.79 399.2 287.84 399.68 295.68 400.11 304.31 400.47 312.93 400.73 322.34 400.94 333.31 401.11 344.29 401.2 356.05 401.23" stroke="url(#g2_6)"/><path d="M42.45 395.11 53.43 395.08 64.4 394.99 73.81 394.85 83.22 394.65 91.84 394.39 99.68 394.08 107.52 393.69 114.58 393.25 120.85 392.78 126.34 392.29 131.83 391.74 138.1 391.03 148.29 389.69 168.67 386.74 174.16 386.03 178.87 385.5 184.35 384.99 189.06 384.67 194.55 384.45 199.25 384.39 203.95 384.45 209.44 384.67 214.15 384.99 219.63 385.5 224.34 386.03 229.83 386.74 250.21 389.69 260.4 391.03 266.67 391.74 272.16 392.29 277.65 392.78 283.92 393.25 290.98 393.69 298.82 394.08 306.66 394.39 315.28 394.65 324.69 394.85 334.1 394.99 345.07 395.08 356.05 395.11" stroke="url(#g2_7)"/><path d="M42.45 388.99 62.83 388.89 80.87 388.59 89.49 388.36 97.33 388.08 104.39 387.77 111.44 387.38 117.71 386.97 123.2 386.56 128.69 386.09 134.96 385.48 145.15 384.36 167.11 381.72 172.59 381.13 177.3 380.68 182.79 380.25 188.27 379.94 193.76 379.74 199.25 379.68 204.74 379.74 210.23 379.94 215.71 380.25 221.2 380.68 225.91 381.13 231.39 381.72 253.35 384.36 263.54 385.48 269.81 386.09 275.3 386.56 280.79 386.97 287.06 387.38 294.11 387.77 301.17 388.08 309.01 388.36 317.63 388.59 335.67 388.89 356.05 388.99" stroke="url(#g2_8)"/><path d="M42.45 382.87 62.05 382.78 79.3 382.53 94.19 382.14 108.31 381.57 120.07 380.89 131.83 380.01 142.8 379.03 164.75 376.87 175.73 375.96 182 375.56 187.49 375.31 193.76 375.13 199.25 375.08 204.74 375.13 211.01 375.31 216.5 375.56 222.77 375.96 233.75 376.87 255.7 379.03 266.67 380.01 278.43 380.89 290.19 381.57 304.31 382.14 319.2 382.53 336.45 382.78 356.05 382.87" stroke="url(#g2_9)"/><path d="M42.45 376.75 60.48 376.69 77.73 376.49 92.63 376.17 106.74 375.7 118.5 375.16 130.26 374.46 140.45 373.75 163.19 372.01 174.16 371.3 180.43 370.99 186.71 370.75 192.98 370.61 199.25 370.56 205.52 370.61 211.79 370.75 218.07 370.99 224.34 371.3 235.31 372.01 258.05 373.75 268.24 374.46 280 375.16 291.76 375.7 305.87 376.17 320.77 376.49 338.02 376.69 356.05 376.75" stroke="url(#g2_10)"/><path d="M42.45 370.63 59.7 370.58 76.16 370.44 91.06 370.21 104.39 369.89 116.15 369.5 127.91 369 138.1 368.48 161.62 367.19 173.38 366.64 180.43 366.39 186.71 366.24 192.98 366.14 199.25 366.11 205.52 366.14 211.79 366.24 218.07 366.39 225.12 366.64 236.88 367.19 260.4 368.48 270.59 369 282.35 369.5 294.11 369.89 307.44 370.21 322.34 370.44 338.8 370.58 356.05 370.63" stroke="url(#g2_11)"/><path d="M42.45 364.51 59.7 364.48 75.38 364.39 89.49 364.25 102.82 364.05 113.79 363.82 125.55 363.51 159.27 362.39 171.81 362.03 185.92 361.77 199.25 361.69 212.58 361.77 226.69 362.03 239.23 362.39 272.95 363.51 284.71 363.82 295.68 364.05 309.01 364.25 323.12 364.39 338.8 364.48 356.05 364.51" stroke="url(#g2_12)"/><path d="M42.45 361.45 74.59 361.37 101.25 361.14 123.99 360.76 157.7 359.98 170.24 359.73 184.35 359.55 199.25 359.49 214.15 359.55 228.26 359.73 240.8 359.98 274.51 360.76 297.25 361.14 323.91 361.37 356.05 361.45" stroke="url(#g2_13)"/><path d="M42.45 431.83 90.27 431.88 123.2 432.02 150.64 432.28 158.48 432.44 163.97 432.64 168.67 432.94 172.59 433.36 174.16 433.6 175.73 433.91 177.3 434.29 178.87 434.78 180.43 435.39 182 436.13 184.35 437.47 188.27 439.85 189.84 440.68 191.41 441.39 192.98 442.54 194.55 443.15 196.11 443.31 197.68 442.92 198.86 441.93 199.72 440.7 200.03 439.1" stroke="url(#g2_14)"/><path d="M42.45 434.89 85.57 435 102.03 435.12 115.36 435.3 127.91 435.57 138.1 435.89 146.72 436.3 153.78 436.77 158.48 437.22 162.4 437.72 166.32 438.37 169.46 439.05 172.59 439.91 175.73 440.97 178.87 442.21 185.14 444.84 186.71 445.44 189.06 446.24 191.41 446.89 192.98 447.23 194.55 447.5 196.9 447.77 199.25 447.86 201.6 447.77 203.95 447.5 205.52 447.23 207.09 446.89 209.44 446.23 211.79 445.41 213.36 444.8 220.42 441.71 223.55 440.43 225.91 439.59 227.47 439.09 230.61 438.23 234.53 437.38 238.45 436.72 242.37 436.21 247.07 435.73 253.35 435.29 261.19 434.95 271.38 434.63 283.92 434.37 297.25 434.2 313.71 434.07 356.05 433.97" stroke="url(#g2_15)"/><path d="M42.45 437.95 62.05 437.98 80.08 438.08 94.98 438.23 108.31 438.46 119.28 438.74 129.47 439.14 138.1 439.61 145.15 440.14 150.64 440.69 155.35 441.28 159.27 441.9 163.19 442.66 167.11 443.59 171.03 444.71 174.95 445.99 182.79 448.69 185.14 449.43 187.49 450.08 190.63 450.79 193.76 451.29 196.11 451.53 199.25 451.64 202.39 451.53 204.74 451.29 207.87 450.79 211.01 450.08 213.36 449.43 215.71 448.69 223.55 445.99 227.47 444.71 231.39 443.59 235.31 442.66 239.23 441.9 243.15 441.28 247.86 440.69 253.35 440.14 260.4 439.61 269.03 439.14 279.22 438.74 290.19 438.46 303.52 438.23 318.42 438.08 336.45 437.98 356.05 437.95" stroke="url(#g2_16)"/><path d="M42.45 444.07 58.91 444.11 73.81 444.21 86.35 444.38 98.11 444.62 108.31 444.93 117.71 445.34 126.34 445.85 133.39 446.4 139.67 447.02 145.15 447.69 150.64 448.51 156.13 449.5 160.05 450.32 164.75 451.44 176.51 454.57 180.43 455.57 183.57 456.28 186.71 456.9 189.84 457.39 192.98 457.76 196.11 457.98 199.25 458.05 202.39 457.98 205.52 457.76 208.66 457.39 211.79 456.9 214.93 456.28 218.07 455.57 221.99 454.57 233.75 451.44 238.45 450.32 242.37 449.5 247.86 448.51 253.35 447.69 258.83 447.02 265.11 446.4 272.16 445.85 280.79 445.34 290.19 444.93 300.39 444.62 312.15 444.38 324.69 444.21 339.59 444.11 356.05 444.07" stroke="url(#g2_17)"/><path d="M42.45 450.19 56.56 450.23 69.89 450.34 81.65 450.51 92.63 450.76 102.03 451.07 110.66 451.46 118.5 451.92 126.34 452.52 132.61 453.13 138.1 453.76 143.59 454.51 149.07 455.38 153.78 456.23 158.48 457.17 176.51 461.12 180.43 461.88 184.35 462.53 188.27 463.05 192.19 463.43 196.11 463.65 199.25 463.7 202.39 463.65 206.31 463.43 210.23 463.05 214.15 462.53 218.07 461.88 221.99 461.12 240.02 457.17 244.72 456.23 249.43 455.38 254.91 454.51 260.4 453.76 265.89 453.13 272.16 452.52 280 451.92 287.84 451.46 296.47 451.07 305.87 450.76 316.85 450.51 328.61 450.34 341.94 450.23 356.05 450.19" stroke="url(#g2_18)"/><path d="M42.45 456.31 54.99 456.34 66.75 456.45 77.73 456.61 87.92 456.85 97.33 457.15 105.95 457.54 113.79 457.99 120.85 458.51 127.12 459.07 132.61 459.65 138.88 460.43 144.37 461.21 149.07 461.96 153.78 462.77 173.38 466.41 178.08 467.19 182 467.74 186.71 468.29 190.63 468.62 195.33 468.86 199.25 468.93 203.17 468.86 207.87 468.62 211.79 468.29 216.5 467.74 220.42 467.19 225.12 466.41 244.72 462.77 249.43 461.96 254.13 461.21 259.62 460.43 265.89 459.65 271.38 459.07 277.65 458.51 284.71 457.99 292.55 457.54 301.17 457.15 310.58 456.85 320.77 456.61 331.75 456.45 343.51 456.34 356.05 456.31" stroke="url(#g2_19)"/><path d="M42.45 462.43 54.21 462.46 65.19 462.56 75.38 462.71 84.79 462.93 93.41 463.2 101.25 463.52 109.09 463.93 116.15 464.4 122.42 464.9 127.91 465.41 133.39 466 139.67 466.77 149.86 468.22 170.24 471.45 174.95 472.12 179.65 472.7 185.14 473.26 189.84 473.6 194.55 473.81 199.25 473.88 203.95 473.81 208.66 473.6 213.36 473.26 218.85 472.7 223.55 472.12 228.26 471.45 248.64 468.22 258.83 466.77 265.11 466 270.59 465.41 276.08 464.9 282.35 464.4 289.41 463.93 297.25 463.52 305.09 463.2 313.71 462.93 323.12 462.71 333.31 462.56 344.29 462.46 356.05 462.43" stroke="url(#g2_20)"/><path d="M42.45 468.55 63.62 468.66 73.03 468.8 82.43 468.99 91.06 469.24 98.9 469.54 105.95 469.88 113.01 470.3 119.28 470.75 124.77 471.2 131.04 471.79 136.53 472.38 146.72 473.61 167.89 476.43 173.38 477.09 178.08 477.58 183.57 478.05 189.06 478.39 194.55 478.6 199.25 478.65 203.95 478.6 209.44 478.39 214.93 478.05 220.42 477.58 225.12 477.09 230.61 476.43 251.78 473.61 261.97 472.38 267.46 471.79 273.73 471.2 279.22 470.75 285.49 470.3 292.55 469.88 299.6 469.54 307.44 469.24 316.07 468.99 325.47 468.8 334.88 468.66 356.05 468.55" stroke="url(#g2_21)"/><path d="M42.45 474.67 62.05 474.76 80.08 475.04 95.76 475.49 102.82 475.78 109.87 476.14 121.63 476.89 133.39 477.87 143.59 478.9 166.32 481.39 176.51 482.33 182.79 482.78 188.27 483.06 193.76 483.23 199.25 483.29 204.74 483.23 210.23 483.06 215.71 482.78 221.99 482.33 232.18 481.39 254.91 478.9 265.11 477.87 276.87 476.89 288.63 476.14 295.68 475.78 302.74 475.49 318.42 475.04 336.45 474.76 356.05 474.67" stroke="url(#g2_22)"/><path d="M42.45 480.79 61.27 480.87 78.51 481.09 93.41 481.45 107.52 481.98 119.28 482.59 131.04 483.38 141.23 484.2 163.97 486.19 174.95 487.01 181.22 487.37 187.49 487.63 193.76 487.79 199.25 487.83 204.74 487.79 211.01 487.63 217.28 487.37 223.55 487.01 234.53 486.19 257.27 484.2 267.46 483.38 279.22 482.59 290.98 481.98 305.09 481.45 319.99 481.09 337.23 480.87 356.05 480.79" stroke="url(#g2_23)"/><path d="M42.45 486.91 60.48 486.97 76.95 487.14 91.84 487.41 105.17 487.79 116.93 488.26 128.69 488.86 139.67 489.52 162.4 491.03 174.16 491.68 180.43 491.95 186.71 492.14 192.98 492.26 199.25 492.3 205.52 492.26 211.79 492.14 218.07 491.95 224.34 491.68 236.1 491.03 258.83 489.52 269.81 488.86 281.57 488.26 293.33 487.79 306.66 487.41 321.55 487.14 338.02 486.97 356.05 486.91" stroke="url(#g2_24)"/><path d="M42.45 493.03 59.7 493.07 75.38 493.18 90.27 493.37 103.6 493.63 115.36 493.95 127.12 494.36 160.83 495.84 172.59 496.28 185.92 496.62 199.25 496.73 212.58 496.62 225.91 496.28 237.67 495.84 271.38 494.36 283.14 493.95 294.9 493.63 308.23 493.37 323.12 493.18 338.8 493.07 356.05 493.03" stroke="url(#g2_25)"/><path d="M42.45 499.15 74.59 499.23 101.25 499.46 123.99 499.84 157.7 500.63 170.24 500.88 184.35 501.06 199.25 501.12 214.15 501.06 228.26 500.88 240.8 500.63 274.51 499.84 297.25 499.46 323.91 499.23 356.05 499.15" stroke="url(#g2_26)"/></g>
<rect x="42.6" y="354.15" width="313.5" height="151.95" fill="none" stroke="#000" stroke-width="2.2"/>
<circle cx="200.03" cy="420.36" r="1.5" fill="#7a0403"/>
<circle cx="200.03" cy="440.25" r="1.5" fill="#7a0403"/>
<circle cx="199.25" cy="430.3" r="7.7" fill="#fff" stroke="#000" stroke-width="2.2"/>
<rect x="34.7" y="346.2" width="329.1" height="167.8" fill="none" stroke="#000" stroke-width="1.5"/>
<path d="M34.7 506.8h4M363.8 506.8h-4M34.7 468.55h4M363.8 468.55h-4M34.7 430.3h4M363.8 430.3h-4M34.7 392.05h4M363.8 392.05h-4M34.7 353.8h4M363.8 353.8h-4M42.45 346.2v4M42.45 514v-4M81.65 346.2v4M81.65 514v-4M120.85 346.2v4M120.85 514v-4M160.05 346.2v4M160.05 514v-4M199.25 346.2v4M199.25 514v-4M238.45 346.2v4M238.45 514v-4M277.65 346.2v4M277.65 514v-4M316.85 346.2v4M316.85 514v-4M356.05 346.2v4M356.05 514v-4" stroke="#000" stroke-width="1.3" fill="none"/>
<text class="t" x="30.4" y="510.8" text-anchor="end"><tspan font-size="15.5" dy="0.8" letter-spacing="0.6">−</tspan><tspan dy="-0.8">10</tspan></text>
<text class="t" x="30.4" y="472.55" text-anchor="end"><tspan font-size="15.5" dy="0.8" letter-spacing="0.6">−</tspan><tspan dy="-0.8">5</tspan></text>
<text class="t" x="30.4" y="434.3" text-anchor="end">0</text>
<text class="t" x="30.4" y="396.05" text-anchor="end">5</text>
<text class="t" x="30.4" y="357.8" text-anchor="end">10</text>
<text class="b" font-size="14" x="7.5" y="433.5">y</text>
<text class="b" font-size="21.6" x="51.8" y="382.4">(c)</text>
<text class="t" x="41.75" y="530" text-anchor="middle"><tspan font-size="15.5" dy="0.8" letter-spacing="0.6">−</tspan><tspan dy="-0.8">20</tspan></text>
<text class="t" x="80.95" y="530" text-anchor="middle"><tspan font-size="15.5" dy="0.8" letter-spacing="0.6">−</tspan><tspan dy="-0.8">15</tspan></text>
<text class="t" x="120.15" y="530" text-anchor="middle"><tspan font-size="15.5" dy="0.8" letter-spacing="0.6">−</tspan><tspan dy="-0.8">10</tspan></text>
<text class="t" x="159.35" y="530" text-anchor="middle"><tspan font-size="15.5" dy="0.8" letter-spacing="0.6">−</tspan><tspan dy="-0.8">5</tspan></text>
<text class="t" x="199.25" y="530" text-anchor="middle">0</text>
<text class="t" x="238.45" y="530" text-anchor="middle">5</text>
<text class="t" x="277.65" y="530" text-anchor="middle">10</text>
<text class="t" x="316.85" y="530" text-anchor="middle">15</text>
<text class="t" x="356.05" y="530" text-anchor="middle">20</text>
<text class="b" font-size="14" x="199" y="543" text-anchor="middle">x</text>
<rect x="378.1" y="10.2" width="13.4" height="504" fill="url(#cb)" stroke="#151515" stroke-width="1.7"/>
<text class="c" x="396.1" y="486.6">0.4</text>
<text class="c" x="396.1" y="439.84">0.5</text>
<text class="c" x="396.1" y="393.08">0.6</text>
<text class="c" x="396.1" y="346.32">0.7</text>
<text class="c" x="396.1" y="299.56">0.8</text>
<text class="c" x="396.1" y="252.8">0.9</text>
<text class="c" x="396.1" y="206.04">1</text>
<text class="c" x="396.1" y="159.28">1.1</text>
<text class="c" x="396.1" y="112.52">1.2</text>
<text class="c" x="396.1" y="65.76">1.3</text>
<text class="c" x="396.1" y="19">1.4</text>
<path d="M390.8 481.8h-5.4M390.8 435.04h-5.4M390.8 388.28h-5.4M390.8 341.52h-5.4M390.8 294.76h-5.4M390.8 248h-5.4M390.8 201.24h-5.4M390.8 154.48h-5.4M390.8 107.72h-5.4M390.8 60.96h-5.4M390.8 14.2h-5.4" stroke="#151515" stroke-width="1.5" fill="none"/>
</svg></body></html>
